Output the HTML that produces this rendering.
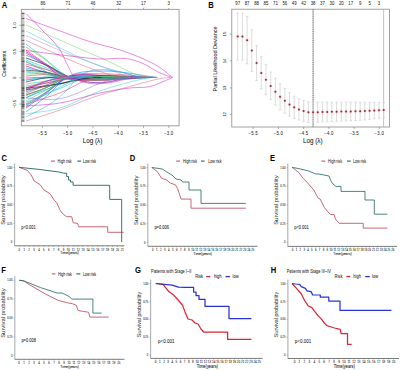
<!DOCTYPE html>
<html><head><meta charset="utf-8"><style>
html,body{margin:0;padding:0;background:#fff;width:400px;height:370px;overflow:hidden}
svg{display:block}
text{font-family:"Liberation Sans", sans-serif}
</style></head><body>
<svg width="400" height="370" viewBox="0 0 400 370">
<rect width="400" height="370" fill="#fff"/>
<text x="0" y="0" font-size="7.6" text-anchor="middle" font-weight="bold" fill="#000" dominant-baseline="central" stroke="#000" stroke-width="0" transform="translate(4.55 4.95) scale(1 1.17)">A</text>
<rect x="21.4" y="9.4" width="157.7" height="116.39999999999999" fill="none" stroke="#a0a0a0" stroke-width="1.0"/>
<line x1="42.50" y1="125.80" x2="42.50" y2="127.80" stroke="#777" stroke-width="0.6"/>
<text x="0" y="0" font-size="4.3" text-anchor="middle" font-weight="normal" fill="#222" dominant-baseline="central" stroke="#222" stroke-width="0.03" transform="translate(42.50 133.00) scale(1 1.12)" letter-spacing="0.25">&#8722;5.5</text>
<line x1="67.70" y1="125.80" x2="67.70" y2="127.80" stroke="#777" stroke-width="0.6"/>
<text x="0" y="0" font-size="4.3" text-anchor="middle" font-weight="normal" fill="#222" dominant-baseline="central" stroke="#222" stroke-width="0.03" transform="translate(67.70 133.00) scale(1 1.12)" letter-spacing="0.25">&#8722;5.0</text>
<line x1="93.00" y1="125.80" x2="93.00" y2="127.80" stroke="#777" stroke-width="0.6"/>
<text x="0" y="0" font-size="4.3" text-anchor="middle" font-weight="normal" fill="#222" dominant-baseline="central" stroke="#222" stroke-width="0.03" transform="translate(93.00 133.00) scale(1 1.12)" letter-spacing="0.25">&#8722;4.5</text>
<line x1="118.50" y1="125.80" x2="118.50" y2="127.80" stroke="#777" stroke-width="0.6"/>
<text x="0" y="0" font-size="4.3" text-anchor="middle" font-weight="normal" fill="#222" dominant-baseline="central" stroke="#222" stroke-width="0.03" transform="translate(118.50 133.00) scale(1 1.12)" letter-spacing="0.25">&#8722;4.0</text>
<line x1="143.50" y1="125.80" x2="143.50" y2="127.80" stroke="#777" stroke-width="0.6"/>
<text x="0" y="0" font-size="4.3" text-anchor="middle" font-weight="normal" fill="#222" dominant-baseline="central" stroke="#222" stroke-width="0.03" transform="translate(143.50 133.00) scale(1 1.12)" letter-spacing="0.25">&#8722;3.5</text>
<line x1="168.75" y1="125.80" x2="168.75" y2="127.80" stroke="#777" stroke-width="0.6"/>
<text x="0" y="0" font-size="4.3" text-anchor="middle" font-weight="normal" fill="#222" dominant-baseline="central" stroke="#222" stroke-width="0.03" transform="translate(168.75 133.00) scale(1 1.12)" letter-spacing="0.25">&#8722;3.0</text>
<line x1="43.00" y1="9.40" x2="43.00" y2="7.90" stroke="#777" stroke-width="0.6"/>
<text x="0" y="0" font-size="4.3" text-anchor="middle" font-weight="normal" fill="#222" dominant-baseline="central" stroke="#222" stroke-width="0.03" transform="translate(43.00 3.00) scale(1 1.12)">86</text>
<line x1="68.00" y1="9.40" x2="68.00" y2="7.90" stroke="#777" stroke-width="0.6"/>
<text x="0" y="0" font-size="4.3" text-anchor="middle" font-weight="normal" fill="#222" dominant-baseline="central" stroke="#222" stroke-width="0.03" transform="translate(68.00 3.00) scale(1 1.12)">71</text>
<line x1="93.00" y1="9.40" x2="93.00" y2="7.90" stroke="#777" stroke-width="0.6"/>
<text x="0" y="0" font-size="4.3" text-anchor="middle" font-weight="normal" fill="#222" dominant-baseline="central" stroke="#222" stroke-width="0.03" transform="translate(93.00 3.00) scale(1 1.12)">46</text>
<line x1="118.75" y1="9.40" x2="118.75" y2="7.90" stroke="#777" stroke-width="0.6"/>
<text x="0" y="0" font-size="4.3" text-anchor="middle" font-weight="normal" fill="#222" dominant-baseline="central" stroke="#222" stroke-width="0.03" transform="translate(118.75 3.00) scale(1 1.12)">32</text>
<line x1="143.50" y1="9.40" x2="143.50" y2="7.90" stroke="#777" stroke-width="0.6"/>
<text x="0" y="0" font-size="4.3" text-anchor="middle" font-weight="normal" fill="#222" dominant-baseline="central" stroke="#222" stroke-width="0.03" transform="translate(143.50 3.00) scale(1 1.12)">17</text>
<line x1="168.75" y1="9.40" x2="168.75" y2="7.90" stroke="#777" stroke-width="0.6"/>
<text x="0" y="0" font-size="4.3" text-anchor="middle" font-weight="normal" fill="#222" dominant-baseline="central" stroke="#222" stroke-width="0.03" transform="translate(168.75 3.00) scale(1 1.12)">3</text>
<line x1="21.40" y1="25.40" x2="19.40" y2="25.40" stroke="#777" stroke-width="0.6"/>
<text x="0" y="0" font-size="4.3" text-anchor="middle" font-weight="normal" fill="#222" dominant-baseline="central" stroke="#222" stroke-width="0.03" transform="translate(14.50 25.40) rotate(-90) scale(1 1.0)">1.0</text>
<line x1="21.40" y1="51.60" x2="19.40" y2="51.60" stroke="#777" stroke-width="0.6"/>
<text x="0" y="0" font-size="4.3" text-anchor="middle" font-weight="normal" fill="#222" dominant-baseline="central" stroke="#222" stroke-width="0.03" transform="translate(14.50 51.60) rotate(-90) scale(1 1.0)">0.5</text>
<line x1="21.40" y1="77.80" x2="19.40" y2="77.80" stroke="#777" stroke-width="0.6"/>
<text x="0" y="0" font-size="4.3" text-anchor="middle" font-weight="normal" fill="#222" dominant-baseline="central" stroke="#222" stroke-width="0.03" transform="translate(14.50 77.80) rotate(-90) scale(1 1.0)">0</text>
<line x1="21.40" y1="104.00" x2="19.40" y2="104.00" stroke="#777" stroke-width="0.6"/>
<text x="0" y="0" font-size="4.3" text-anchor="middle" font-weight="normal" fill="#222" dominant-baseline="central" stroke="#222" stroke-width="0.03" transform="translate(14.50 104.00) rotate(-90) scale(1 1.0)">&#8722;0.5</text>
<text x="0" y="0" font-size="5.0" text-anchor="middle" font-weight="normal" fill="#000" dominant-baseline="central" stroke="#000" stroke-width="0.03" transform="translate(3.80 63.80) rotate(-90) scale(1 1.2)">Coefficients</text>
<text x="0" y="0" font-size="6.3" text-anchor="middle" font-weight="normal" fill="#000" dominant-baseline="central" stroke="#000" stroke-width="0.0" transform="translate(92.50 140.30) scale(1 1.08)">Log (&#955;)</text>
<clipPath id="ca"><rect x="22" y="9.8" width="157" height="115"/></clipPath>
<g clip-path="url(#ca)">
<path d="M26.00 44.00 L28.62 46.05 L31.24 48.10 L33.86 50.15 L36.49 52.20 L39.11 54.25 L41.73 56.30 L44.35 58.34 L46.97 60.37 L49.59 62.47 L52.21 64.69 L54.84 66.94 L57.46 69.16 L60.08 71.30 L62.70 73.27 L65.32 75.01 L67.94 76.45 L71.78 78.14 L75.62 79.51 L79.46 80.59 L83.30 81.40 L87.14 81.99 L90.98 82.40 L94.82 82.64 L98.66 82.77 L102.60 82.67 L106.54 82.27 L110.48 81.65 L114.41 80.87 L118.35 79.99 L122.29 79.09 L126.23 78.24 L130.17 77.50" fill="none" stroke="#28C8D0" stroke-width="0.95" stroke-linejoin="round" stroke-opacity="0.68"/>
<path d="M26.00 47.00 L28.52 48.67 L31.04 50.30 L33.57 51.93 L36.09 53.56 L38.61 55.21 L41.13 56.91 L43.65 58.68 L46.17 60.54 L48.70 62.61 L51.22 64.92 L53.74 67.36 L56.26 69.82 L58.78 72.18 L61.30 74.32 L63.83 76.14 L66.35 77.52 L70.04 78.84 L73.74 79.58 L77.43 79.87 L81.13 79.84 L84.82 79.60 L88.52 79.29 L92.21 79.02 L95.91 78.93 L101.54 78.92 L107.18 78.82 L112.82 78.65 L118.46 78.44 L124.10 78.19 L129.73 77.94 L135.37 77.70 L141.01 77.50" fill="none" stroke="#61D04F" stroke-width="0.95" stroke-linejoin="round" stroke-opacity="0.68"/>
<path d="M26.00 50.00 L28.66 51.85 L31.32 53.71 L33.98 55.58 L36.64 57.44 L39.30 59.29 L41.96 61.13 L44.61 62.96 L47.27 64.75 L49.93 66.61 L52.59 68.57 L55.25 70.56 L57.91 72.51 L60.57 74.35 L63.23 76.01 L65.89 77.41 L68.55 78.48 L73.04 79.67 L77.53 80.31 L82.02 80.52 L86.51 80.42 L91.00 80.13 L95.49 79.75 L99.99 79.41 L104.48 79.21 L108.25 79.11 L112.03 78.95 L115.81 78.74 L119.59 78.50 L123.36 78.24 L127.14 77.98 L130.92 77.73 L134.70 77.50" fill="none" stroke="#DF536B" stroke-width="0.95" stroke-linejoin="round" stroke-opacity="0.68"/>
<path d="M26.00 53.00 L28.72 54.71 L31.43 56.45 L34.15 58.20 L36.87 59.94 L39.58 61.67 L42.30 63.35 L45.01 64.98 L47.73 66.53 L50.45 68.04 L53.16 69.55 L55.88 71.02 L58.60 72.44 L61.31 73.79 L64.03 75.04 L66.75 76.18 L69.46 77.19 L73.02 78.36 L76.57 79.42 L80.13 80.36 L83.68 81.16 L87.23 81.81 L90.79 82.31 L94.34 82.64 L97.90 82.79 L101.83 82.67 L105.77 82.27 L109.71 81.64 L113.65 80.86 L117.58 79.99 L121.52 79.09 L125.46 78.24 L129.40 77.50" fill="none" stroke="#CD0BBC" stroke-width="0.95" stroke-linejoin="round" stroke-opacity="0.68"/>
<path d="M26.00 55.00 L28.55 56.16 L31.11 57.29 L33.66 58.41 L36.22 59.54 L38.77 60.69 L41.32 61.87 L43.88 63.10 L46.43 64.40 L48.99 65.84 L51.54 67.44 L54.10 69.13 L56.65 70.84 L59.20 72.49 L61.76 74.01 L64.31 75.32 L66.87 76.35 L71.11 77.59 L75.35 78.45 L79.60 79.01 L83.84 79.33 L88.08 79.49 L92.33 79.54 L96.57 79.58 L100.82 79.65 L107.27 79.72 L113.73 79.62 L120.19 79.37 L126.65 79.02 L133.11 78.62 L139.57 78.21 L146.03 77.82 L152.48 77.50" fill="none" stroke="#2297E6" stroke-width="0.95" stroke-linejoin="round" stroke-opacity="0.68"/>
<path d="M26.00 58.00 L28.74 58.95 L31.48 59.87 L34.22 60.77 L36.96 61.68 L39.70 62.62 L42.44 63.60 L45.18 64.65 L47.92 65.80 L50.66 67.10 L53.40 68.59 L56.14 70.17 L58.88 71.79 L61.61 73.36 L64.35 74.83 L67.09 76.10 L69.83 77.12 L73.24 78.06 L76.64 78.79 L80.04 79.31 L83.45 79.68 L86.85 79.92 L90.25 80.06 L93.66 80.15 L97.06 80.20 L101.16 80.17 L105.27 79.98 L109.37 79.66 L113.47 79.25 L117.57 78.80 L121.68 78.33 L125.78 77.88 L129.88 77.50" fill="none" stroke="#222222" stroke-width="0.95" stroke-linejoin="round" stroke-opacity="0.68"/>
<path d="M26.00 60.00 L28.76 61.05 L31.51 62.10 L34.27 63.15 L37.02 64.20 L39.78 65.26 L42.53 66.31 L45.29 67.38 L48.04 68.45 L50.80 69.59 L53.55 70.81 L56.31 72.06 L59.06 73.30 L61.82 74.49 L64.57 75.58 L67.33 76.53 L70.08 77.28 L73.57 77.98 L77.06 78.48 L80.55 78.80 L84.04 79.00 L87.53 79.09 L91.02 79.13 L94.51 79.15 L98.00 79.19 L103.94 79.21 L109.89 79.11 L115.84 78.92 L121.78 78.65 L127.73 78.35 L133.67 78.04 L139.62 77.74 L145.57 77.50" fill="none" stroke="#28C8D0" stroke-width="0.95" stroke-linejoin="round" stroke-opacity="0.68"/>
<path d="M26.00 62.00 L28.80 63.02 L31.60 64.04 L34.39 65.06 L37.19 66.09 L39.99 67.11 L42.79 68.13 L45.59 69.14 L48.38 70.15 L51.18 71.20 L53.98 72.33 L56.78 73.47 L59.57 74.60 L62.37 75.67 L65.17 76.64 L67.97 77.46 L70.77 78.10 L74.89 78.72 L79.01 79.09 L83.14 79.24 L87.26 79.25 L91.38 79.15 L95.51 79.01 L99.63 78.87 L103.75 78.80 L108.94 78.74 L114.12 78.63 L119.31 78.47 L124.49 78.29 L129.68 78.08 L134.86 77.88 L140.05 77.68 L145.23 77.50" fill="none" stroke="#61D04F" stroke-width="0.95" stroke-linejoin="round" stroke-opacity="0.68"/>
<path d="M26.00 64.00 L28.77 64.76 L31.55 65.51 L34.32 66.26 L37.09 67.01 L39.87 67.77 L42.64 68.53 L45.41 69.31 L48.19 70.10 L50.96 70.95 L53.74 71.85 L56.51 72.78 L59.28 73.71 L62.06 74.62 L64.83 75.46 L67.60 76.22 L70.38 76.86 L74.40 77.65 L78.43 78.35 L82.45 78.95 L86.47 79.46 L90.50 79.86 L94.52 80.16 L98.55 80.35 L102.57 80.42 L106.19 80.35 L109.81 80.12 L113.44 79.77 L117.06 79.34 L120.68 78.86 L124.30 78.37 L127.92 77.91 L131.54 77.50" fill="none" stroke="#DF536B" stroke-width="0.95" stroke-linejoin="round" stroke-opacity="0.68"/>
<path d="M26.00 66.00 L28.56 66.86 L31.11 67.75 L33.67 68.64 L36.23 69.53 L38.78 70.40 L41.34 71.24 L43.90 72.04 L46.46 72.79 L49.01 73.51 L51.57 74.21 L54.13 74.89 L56.68 75.53 L59.24 76.12 L61.80 76.65 L64.35 77.10 L66.91 77.47 L71.14 77.89 L75.37 78.14 L79.59 78.25 L83.82 78.26 L88.05 78.21 L92.28 78.13 L96.50 78.06 L100.73 78.04 L106.64 78.04 L112.56 78.00 L118.47 77.94 L124.39 77.85 L130.30 77.76 L136.22 77.67 L142.13 77.58 L148.05 77.50" fill="none" stroke="#CD0BBC" stroke-width="0.95" stroke-linejoin="round" stroke-opacity="0.68"/>
<path d="M26.00 68.00 L28.83 68.60 L31.66 69.21 L34.48 69.82 L37.31 70.44 L40.14 71.04 L42.97 71.64 L45.80 72.22 L48.63 72.79 L51.45 73.36 L54.28 73.93 L57.11 74.50 L59.94 75.06 L62.77 75.59 L65.60 76.09 L68.42 76.54 L71.25 76.94 L74.79 77.38 L78.33 77.76 L81.87 78.10 L85.41 78.39 L88.95 78.63 L92.48 78.83 L96.02 78.97 L99.56 79.07 L105.35 79.11 L111.13 79.03 L116.91 78.85 L122.70 78.60 L128.48 78.31 L134.26 78.01 L140.05 77.73 L145.83 77.50" fill="none" stroke="#2297E6" stroke-width="0.95" stroke-linejoin="round" stroke-opacity="0.68"/>
<path d="M26.00 70.00 L28.81 70.31 L31.63 70.58 L34.44 70.84 L37.26 71.11 L40.07 71.40 L42.89 71.75 L45.70 72.16 L48.52 72.66 L51.33 73.31 L54.15 74.11 L56.96 75.00 L59.78 75.93 L62.59 76.84 L65.41 77.66 L68.22 78.35 L71.04 78.83 L74.91 79.21 L78.78 79.37 L82.66 79.35 L86.53 79.21 L90.40 79.00 L94.27 78.76 L98.14 78.56 L102.01 78.44 L107.75 78.34 L113.49 78.23 L119.23 78.11 L124.97 77.99 L130.71 77.87 L136.45 77.74 L142.19 77.62 L147.92 77.50" fill="none" stroke="#222222" stroke-width="0.95" stroke-linejoin="round" stroke-opacity="0.68"/>
<path d="M26.00 72.00 L28.74 72.37 L31.49 72.74 L34.23 73.10 L36.97 73.46 L39.71 73.83 L42.46 74.21 L45.20 74.61 L47.94 75.03 L50.68 75.51 L53.43 76.05 L56.17 76.63 L58.91 77.21 L61.65 77.77 L64.40 78.27 L67.14 78.68 L69.88 78.98 L73.86 79.22 L77.83 79.31 L81.81 79.29 L85.78 79.17 L89.76 79.01 L93.74 78.82 L97.71 78.66 L101.69 78.53 L106.04 78.43 L110.40 78.31 L114.76 78.19 L119.11 78.05 L123.47 77.91 L127.83 77.77 L132.18 77.63 L136.54 77.50" fill="none" stroke="#28C8D0" stroke-width="0.95" stroke-linejoin="round" stroke-opacity="0.68"/>
<path d="M26.00 74.00 L28.51 73.97 L31.02 73.90 L33.53 73.82 L36.03 73.74 L38.54 73.70 L41.05 73.70 L43.56 73.77 L46.07 73.93 L48.58 74.21 L51.08 74.62 L53.59 75.11 L56.10 75.64 L58.61 76.17 L61.12 76.67 L63.63 77.08 L66.14 77.39 L70.70 77.72 L75.27 77.91 L79.84 77.98 L84.41 77.98 L88.98 77.92 L93.55 77.84 L98.11 77.77 L102.68 77.75 L106.29 77.74 L109.89 77.72 L113.49 77.69 L117.10 77.66 L120.70 77.62 L124.31 77.57 L127.91 77.53 L131.51 77.50" fill="none" stroke="#61D04F" stroke-width="0.95" stroke-linejoin="round" stroke-opacity="0.68"/>
<path d="M26.00 76.00 L28.55 75.81 L31.10 75.59 L33.65 75.36 L36.19 75.14 L38.74 74.94 L41.29 74.78 L43.84 74.70 L46.39 74.69 L48.94 74.80 L51.49 75.00 L54.03 75.28 L56.58 75.60 L59.13 75.93 L61.68 76.26 L64.23 76.53 L66.78 76.74 L70.87 76.98 L74.95 77.16 L79.04 77.31 L83.13 77.42 L87.22 77.50 L91.31 77.56 L95.40 77.62 L99.49 77.67 L106.32 77.73 L113.15 77.74 L119.99 77.73 L126.82 77.69 L133.65 77.64 L140.48 77.58 L147.31 77.53 L154.14 77.50" fill="none" stroke="#DF536B" stroke-width="0.95" stroke-linejoin="round" stroke-opacity="0.68"/>
<path d="M26.00 78.00 L28.71 77.92 L31.41 77.82 L34.12 77.71 L36.82 77.61 L39.53 77.52 L42.24 77.45 L44.94 77.42 L47.65 77.44 L50.35 77.52 L53.06 77.67 L55.77 77.86 L58.47 78.07 L61.18 78.27 L63.88 78.45 L66.59 78.59 L69.30 78.65 L73.03 78.63 L76.76 78.51 L80.49 78.34 L84.22 78.13 L87.96 77.91 L91.69 77.69 L95.42 77.52 L99.15 77.41 L106.00 77.30 L112.84 77.26 L119.69 77.27 L126.54 77.30 L133.38 77.36 L140.23 77.42 L147.07 77.47 L153.92 77.50" fill="none" stroke="#CD0BBC" stroke-width="0.95" stroke-linejoin="round" stroke-opacity="0.68"/>
<path d="M26.00 80.00 L28.63 79.74 L31.27 79.45 L33.90 79.15 L36.54 78.85 L39.17 78.58 L41.81 78.34 L44.44 78.15 L47.08 78.03 L49.71 78.00 L52.35 78.05 L54.98 78.16 L57.61 78.29 L60.25 78.44 L62.88 78.57 L65.52 78.65 L68.15 78.65 L71.80 78.55 L75.44 78.36 L79.09 78.11 L82.74 77.84 L86.38 77.56 L90.03 77.30 L93.67 77.10 L97.32 76.97 L101.72 76.91 L106.12 76.92 L110.52 76.98 L114.92 77.07 L119.32 77.19 L123.73 77.31 L128.13 77.42 L132.53 77.50" fill="none" stroke="#2297E6" stroke-width="0.95" stroke-linejoin="round" stroke-opacity="0.68"/>
<path d="M26.00 82.00 L28.59 81.44 L31.18 80.84 L33.76 80.23 L36.35 79.62 L38.94 79.05 L41.53 78.53 L44.11 78.09 L46.70 77.74 L49.29 77.52 L51.88 77.40 L54.46 77.35 L57.05 77.36 L59.64 77.40 L62.23 77.44 L64.81 77.47 L67.40 77.45 L71.37 77.38 L75.35 77.29 L79.32 77.19 L83.29 77.09 L87.27 76.99 L91.24 76.92 L95.22 76.86 L99.19 76.84 L103.78 76.86 L108.36 76.91 L112.95 76.99 L117.54 77.09 L122.12 77.19 L126.71 77.30 L131.30 77.41 L135.88 77.50" fill="none" stroke="#222222" stroke-width="0.95" stroke-linejoin="round" stroke-opacity="0.68"/>
<path d="M26.00 84.00 L28.64 83.61 L31.28 83.23 L33.92 82.85 L36.55 82.46 L39.19 82.08 L41.83 81.69 L44.47 81.30 L47.11 80.91 L49.75 80.50 L52.38 80.07 L55.02 79.62 L57.66 79.18 L60.30 78.75 L62.94 78.35 L65.58 78.00 L68.22 77.70 L72.34 77.32 L76.46 77.00 L80.58 76.75 L84.70 76.54 L88.82 76.38 L92.94 76.26 L97.06 76.18 L101.18 76.12 L107.12 76.12 L113.06 76.21 L119.00 76.37 L124.95 76.58 L130.89 76.82 L136.83 77.07 L142.77 77.30 L148.71 77.50" fill="none" stroke="#28C8D0" stroke-width="0.95" stroke-linejoin="round" stroke-opacity="0.68"/>
<path d="M26.00 86.00 L28.75 85.59 L31.51 85.21 L34.26 84.85 L37.01 84.48 L39.77 84.08 L42.52 83.64 L45.28 83.15 L48.03 82.58 L50.78 81.88 L53.54 81.04 L56.29 80.12 L59.04 79.17 L61.80 78.25 L64.55 77.40 L67.30 76.69 L70.06 76.16 L74.17 75.66 L78.29 75.38 L82.40 75.28 L86.52 75.30 L90.63 75.41 L94.75 75.55 L98.86 75.69 L102.98 75.78 L109.03 75.89 L115.08 76.05 L121.14 76.26 L127.19 76.50 L133.24 76.76 L139.29 77.02 L145.35 77.27 L151.40 77.50" fill="none" stroke="#61D04F" stroke-width="0.95" stroke-linejoin="round" stroke-opacity="0.68"/>
<path d="M26.00 88.00 L28.65 87.08 L31.29 86.13 L33.94 85.16 L36.59 84.20 L39.24 83.27 L41.88 82.39 L44.53 81.57 L47.18 80.85 L49.82 80.20 L52.47 79.61 L55.12 79.07 L57.77 78.59 L60.41 78.16 L63.06 77.79 L65.71 77.47 L68.35 77.20 L71.77 76.94 L75.18 76.79 L78.60 76.73 L82.01 76.73 L85.43 76.76 L88.84 76.81 L92.26 76.86 L95.67 76.88 L102.09 76.90 L108.51 76.95 L114.93 77.03 L121.35 77.12 L127.77 77.22 L134.19 77.32 L140.61 77.41 L147.03 77.50" fill="none" stroke="#DF536B" stroke-width="0.95" stroke-linejoin="round" stroke-opacity="0.68"/>
<path d="M26.00 90.00 L28.58 88.88 L31.16 87.72 L33.73 86.54 L36.31 85.37 L38.89 84.23 L41.47 83.15 L44.05 82.15 L46.63 81.24 L49.20 80.43 L51.78 79.67 L54.36 78.97 L56.94 78.33 L59.52 77.76 L62.10 77.26 L64.67 76.84 L67.25 76.49 L70.91 76.14 L74.57 75.93 L78.23 75.86 L81.88 75.87 L85.54 75.94 L89.20 76.05 L92.86 76.16 L96.51 76.23 L100.65 76.32 L104.78 76.44 L108.91 76.60 L113.04 76.77 L117.18 76.96 L121.31 77.15 L125.44 77.33 L129.58 77.50" fill="none" stroke="#CD0BBC" stroke-width="0.95" stroke-linejoin="round" stroke-opacity="0.68"/>
<path d="M26.00 92.00 L28.54 91.13 L31.08 90.27 L33.61 89.42 L36.15 88.56 L38.69 87.69 L41.23 86.82 L43.77 85.92 L46.30 85.00 L48.84 84.00 L51.38 82.91 L53.92 81.76 L56.46 80.62 L58.99 79.53 L61.53 78.55 L64.07 77.72 L66.61 77.09 L70.34 76.51 L74.08 76.22 L77.81 76.14 L81.55 76.22 L85.28 76.40 L89.02 76.61 L92.75 76.78 L96.49 76.85 L103.70 76.88 L110.92 76.94 L118.14 77.01 L125.36 77.11 L132.58 77.21 L139.79 77.31 L147.01 77.41 L154.23 77.50" fill="none" stroke="#2297E6" stroke-width="0.95" stroke-linejoin="round" stroke-opacity="0.68"/>
<path d="M26.00 95.00 L28.59 94.07 L31.19 93.17 L33.78 92.28 L36.38 91.38 L38.97 90.46 L41.57 89.51 L44.16 88.50 L46.76 87.42 L49.35 86.19 L51.95 84.79 L54.54 83.31 L57.14 81.80 L59.73 80.35 L62.32 79.03 L64.92 77.90 L67.51 77.04 L72.19 76.01 L76.87 75.38 L81.55 75.08 L86.22 75.02 L90.90 75.12 L95.58 75.32 L100.25 75.52 L104.93 75.65 L108.28 75.75 L111.62 75.91 L114.96 76.14 L118.31 76.40 L121.65 76.68 L125.00 76.97 L128.34 77.25 L131.69 77.50" fill="none" stroke="#222222" stroke-width="0.95" stroke-linejoin="round" stroke-opacity="0.68"/>
<path d="M26.00 98.00 L28.67 96.63 L31.35 95.24 L34.02 93.86 L36.70 92.47 L39.37 91.09 L42.05 89.73 L44.72 88.40 L47.40 87.10 L50.07 85.77 L52.75 84.39 L55.42 83.00 L58.10 81.64 L60.77 80.37 L63.45 79.21 L66.12 78.23 L68.80 77.45 L72.40 76.73 L76.01 76.29 L79.62 76.08 L83.22 76.03 L86.83 76.10 L90.43 76.21 L94.04 76.32 L97.65 76.36 L101.82 76.39 L106.00 76.48 L110.18 76.61 L114.36 76.78 L118.53 76.97 L122.71 77.16 L126.89 77.34 L131.07 77.50" fill="none" stroke="#28C8D0" stroke-width="0.95" stroke-linejoin="round" stroke-opacity="0.68"/>
<path d="M26.00 101.00 L28.81 99.48 L31.62 97.97 L34.43 96.46 L37.24 94.94 L40.05 93.43 L42.86 91.91 L45.68 90.38 L48.49 88.86 L51.30 87.24 L54.11 85.49 L56.92 83.69 L59.73 81.91 L62.54 80.23 L65.35 78.71 L68.16 77.44 L70.97 76.48 L74.16 75.81 L77.35 75.48 L80.53 75.43 L83.72 75.57 L86.91 75.82 L90.09 76.11 L93.28 76.35 L96.47 76.46 L103.97 76.54 L111.48 76.65 L118.99 76.77 L126.50 76.91 L134.01 77.06 L141.51 77.22 L149.02 77.36 L156.53 77.50" fill="none" stroke="#61D04F" stroke-width="0.95" stroke-linejoin="round" stroke-opacity="0.68"/>
<path d="M26.00 104.00 L28.70 102.46 L31.41 100.94 L34.11 99.44 L36.81 97.93 L39.52 96.40 L42.22 94.82 L44.93 93.20 L47.63 91.49 L50.33 89.61 L53.04 87.52 L55.74 85.31 L58.44 83.10 L61.15 80.96 L63.85 79.02 L66.56 77.36 L69.26 76.08 L73.35 74.77 L77.43 73.95 L81.52 73.53 L85.61 73.41 L89.70 73.49 L93.79 73.66 L97.87 73.84 L101.96 73.92 L108.89 74.02 L115.81 74.31 L122.73 74.73 L129.66 75.26 L136.58 75.84 L143.51 76.44 L150.43 77.00 L157.36 77.50" fill="none" stroke="#DF536B" stroke-width="0.95" stroke-linejoin="round" stroke-opacity="0.68"/>
<path d="M26.00 108.00 L28.60 106.09 L31.20 104.18 L33.79 102.27 L36.39 100.36 L38.99 98.44 L41.59 96.53 L44.19 94.61 L46.78 92.68 L49.38 90.65 L51.98 88.46 L54.58 86.22 L57.18 84.00 L59.77 81.89 L62.37 79.98 L64.97 78.35 L67.57 77.10 L71.97 75.68 L76.37 74.85 L80.78 74.50 L85.18 74.48 L89.58 74.69 L93.98 74.99 L98.39 75.25 L102.79 75.36 L108.84 75.41 L114.88 75.58 L120.93 75.83 L126.97 76.15 L133.02 76.50 L139.07 76.86 L145.11 77.20 L151.16 77.50" fill="none" stroke="#CD0BBC" stroke-width="0.95" stroke-linejoin="round" stroke-opacity="0.68"/>
<path d="M26.00 112.00 L28.62 109.99 L31.25 108.00 L33.87 106.03 L36.49 104.05 L39.12 102.05 L41.74 100.01 L44.37 97.91 L46.99 95.75 L49.61 93.39 L52.24 90.81 L54.86 88.11 L57.48 85.40 L60.11 82.79 L62.73 80.40 L65.35 78.32 L67.98 76.67 L72.36 74.65 L76.75 73.20 L81.13 72.22 L85.52 71.62 L89.90 71.31 L94.29 71.18 L98.68 71.13 L103.06 71.08 L109.87 71.16 L116.68 71.62 L123.49 72.38 L130.30 73.35 L137.12 74.43 L143.93 75.54 L150.74 76.59 L157.55 77.50" fill="none" stroke="#2297E6" stroke-width="0.95" stroke-linejoin="round" stroke-opacity="0.68"/>
<path d="M26.00 97.46 L29.58 96.06 L33.16 94.64 L36.74 93.21 L40.32 91.79 L43.90 90.38 L47.49 89.00 L51.07 87.67 L54.65 86.39 L58.23 85.11 L61.81 83.80 L65.39 82.50 L68.97 81.25 L72.55 80.09 L76.13 79.05 L79.71 78.17 L83.29 77.50 L84.54 77.35 L85.79 77.28 L87.04 77.27 L88.29 77.31 L89.54 77.36 L90.79 77.43 L92.04 77.48 L93.29 77.50" fill="none" stroke="#2297E6" stroke-width="0.95" stroke-linejoin="round" stroke-opacity="0.68"/>
<path d="M26.00 80.02 L28.50 79.60 L31.00 79.15 L33.50 78.68 L36.00 78.21 L38.50 77.78 L41.00 77.40 L43.50 77.09 L46.00 76.88 L48.50 76.78 L51.00 76.78 L53.50 76.86 L56.00 76.99 L58.50 77.15 L61.00 77.30 L63.50 77.43 L66.00 77.50 L67.25 77.51 L68.50 77.52 L69.75 77.52 L71.00 77.52 L72.25 77.51 L73.50 77.51 L74.75 77.50 L76.00 77.50" fill="none" stroke="#28C8D0" stroke-width="0.95" stroke-linejoin="round" stroke-opacity="0.68"/>
<path d="M26.00 51.62 L28.29 53.10 L30.57 54.57 L32.86 56.03 L35.14 57.49 L37.43 58.96 L39.72 60.47 L42.00 62.01 L44.29 63.60 L46.57 65.34 L48.86 67.26 L51.14 69.28 L53.43 71.30 L55.72 73.22 L58.00 74.96 L60.29 76.41 L62.57 77.50 L63.82 77.86 L65.07 78.03 L66.32 78.06 L67.57 77.98 L68.82 77.83 L70.07 77.68 L71.32 77.55 L72.57 77.50" fill="none" stroke="#CD0BBC" stroke-width="0.95" stroke-linejoin="round" stroke-opacity="0.68"/>
<path d="M26.00 90.17 L30.19 89.35 L34.38 88.52 L38.57 87.69 L42.76 86.87 L46.95 86.05 L51.14 85.23 L55.33 84.42 L59.52 83.62 L63.71 82.79 L67.90 81.92 L72.09 81.03 L76.28 80.15 L80.47 79.33 L84.66 78.59 L88.85 77.97 L93.04 77.50 L94.29 77.41 L95.54 77.37 L96.79 77.37 L98.04 77.39 L99.29 77.42 L100.54 77.46 L101.79 77.49 L103.04 77.50" fill="none" stroke="#222222" stroke-width="0.95" stroke-linejoin="round" stroke-opacity="0.68"/>
<path d="M26.00 104.35 L30.28 102.92 L34.56 101.53 L38.84 100.16 L43.12 98.77 L47.39 97.36 L51.67 95.90 L55.95 94.37 L60.23 92.74 L64.51 90.91 L68.79 88.83 L73.07 86.62 L77.35 84.40 L81.63 82.26 L85.90 80.32 L90.18 78.70 L94.46 77.50 L95.71 77.29 L96.96 77.19 L98.21 77.17 L99.46 77.22 L100.71 77.30 L101.96 77.40 L103.21 77.47 L104.46 77.50" fill="none" stroke="#DF536B" stroke-width="0.95" stroke-linejoin="round" stroke-opacity="0.68"/>
<path d="M26.00 71.15 L28.12 71.39 L30.24 71.62 L32.36 71.83 L34.48 72.05 L36.60 72.29 L38.72 72.56 L40.84 72.87 L42.96 73.23 L45.08 73.69 L47.20 74.25 L49.32 74.86 L51.44 75.50 L53.56 76.12 L55.68 76.68 L57.80 77.16 L59.92 77.50 L61.17 77.62 L62.42 77.68 L63.67 77.68 L64.92 77.66 L66.17 77.61 L67.42 77.56 L68.67 77.52 L69.92 77.50" fill="none" stroke="#61D04F" stroke-width="0.95" stroke-linejoin="round" stroke-opacity="0.68"/>
<path d="M26.00 61.41 L28.07 62.48 L30.15 63.57 L32.22 64.66 L34.30 65.74 L36.37 66.82 L38.45 67.89 L40.52 68.93 L42.60 69.95 L44.67 70.99 L46.75 72.08 L48.82 73.19 L50.90 74.26 L52.97 75.27 L55.05 76.17 L57.12 76.92 L59.20 77.50 L60.45 77.72 L61.70 77.82 L62.95 77.83 L64.20 77.78 L65.45 77.70 L66.70 77.61 L67.95 77.53 L69.20 77.50" fill="none" stroke="#2297E6" stroke-width="0.95" stroke-linejoin="round" stroke-opacity="0.68"/>
<path d="M26.00 102.22 L29.86 100.66 L33.73 99.10 L37.59 97.55 L41.45 95.99 L45.32 94.43 L49.18 92.88 L53.05 91.32 L56.91 89.78 L60.77 88.15 L64.64 86.41 L68.50 84.62 L72.36 82.86 L76.23 81.20 L80.09 79.70 L83.96 78.45 L87.82 77.50 L89.07 77.31 L90.32 77.22 L91.57 77.21 L92.82 77.25 L94.07 77.33 L95.32 77.41 L96.57 77.47 L97.82 77.50" fill="none" stroke="#28C8D0" stroke-width="0.95" stroke-linejoin="round" stroke-opacity="0.68"/>
<path d="M26.00 87.87 L29.75 86.99 L33.50 86.08 L37.25 85.16 L41.00 84.24 L44.74 83.35 L48.49 82.50 L52.24 81.72 L55.99 81.03 L59.74 80.40 L63.49 79.83 L67.24 79.31 L70.99 78.83 L74.74 78.42 L78.49 78.06 L82.23 77.75 L85.98 77.50 L87.23 77.44 L88.48 77.42 L89.73 77.41 L90.98 77.43 L92.23 77.45 L93.48 77.47 L94.73 77.49 L95.98 77.50" fill="none" stroke="#CD0BBC" stroke-width="0.95" stroke-linejoin="round" stroke-opacity="0.68"/>
<path d="M26.00 88.31 L30.06 87.79 L34.12 87.30 L38.18 86.81 L42.23 86.32 L46.29 85.81 L50.35 85.26 L54.41 84.68 L58.47 84.04 L62.53 83.28 L66.59 82.41 L70.65 81.46 L74.70 80.50 L78.76 79.57 L82.82 78.73 L86.88 78.02 L90.94 77.50 L92.19 77.40 L93.44 77.36 L94.69 77.35 L95.94 77.37 L97.19 77.41 L98.44 77.45 L99.69 77.49 L100.94 77.50" fill="none" stroke="#222222" stroke-width="0.95" stroke-linejoin="round" stroke-opacity="0.68"/>
<path d="M26.00 93.51 L28.84 92.33 L31.69 91.13 L34.53 89.91 L37.38 88.70 L40.22 87.51 L43.07 86.36 L45.91 85.26 L48.76 84.22 L51.60 83.21 L54.44 82.20 L57.29 81.22 L60.13 80.28 L62.98 79.41 L65.82 78.65 L68.67 78.00 L71.51 77.50 L72.76 77.36 L74.01 77.29 L75.26 77.28 L76.51 77.32 L77.76 77.37 L79.01 77.43 L80.26 77.48 L81.51 77.50" fill="none" stroke="#DF536B" stroke-width="0.95" stroke-linejoin="round" stroke-opacity="0.68"/>
<path d="M26.00 95.77 L28.44 94.79 L30.87 93.84 L33.31 92.90 L35.74 91.95 L38.18 90.99 L40.61 89.99 L43.05 88.94 L45.48 87.84 L47.92 86.59 L50.35 85.18 L52.79 83.68 L55.22 82.17 L57.66 80.73 L60.09 79.41 L62.53 78.31 L64.96 77.50 L66.21 77.25 L67.46 77.13 L68.71 77.11 L69.96 77.17 L71.21 77.27 L72.46 77.38 L73.71 77.46 L74.96 77.50" fill="none" stroke="#61D04F" stroke-width="0.95" stroke-linejoin="round" stroke-opacity="0.68"/>
<path d="M26.00 106.36 L28.61 104.50 L31.23 102.63 L33.84 100.76 L36.45 98.90 L39.07 97.03 L41.68 95.18 L44.29 93.35 L46.91 91.53 L49.52 89.65 L52.13 87.64 L54.75 85.60 L57.36 83.59 L59.97 81.70 L62.59 80.00 L65.20 78.58 L67.81 77.50 L69.06 77.18 L70.31 77.03 L71.56 77.01 L72.81 77.08 L74.06 77.21 L75.31 77.34 L76.56 77.45 L77.81 77.50" fill="none" stroke="#2297E6" stroke-width="0.95" stroke-linejoin="round" stroke-opacity="0.68"/>
<path d="M26.00 104.91 L29.54 103.02 L33.08 101.10 L36.62 99.16 L40.15 97.24 L43.69 95.33 L47.23 93.46 L50.77 91.64 L54.31 89.89 L57.85 88.13 L61.38 86.31 L64.92 84.50 L68.46 82.75 L72.00 81.12 L75.54 79.66 L79.08 78.44 L82.62 77.50 L83.87 77.29 L85.12 77.19 L86.37 77.18 L87.62 77.23 L88.87 77.31 L90.12 77.40 L91.37 77.47 L92.62 77.50" fill="none" stroke="#28C8D0" stroke-width="0.95" stroke-linejoin="round" stroke-opacity="0.68"/>
<path d="M26.00 13.50 L28.25 15.80 L30.50 18.08 L32.75 20.36 L35.00 22.64 L37.25 24.93 L39.50 27.25 L41.75 29.60 L44.00 32.00 L46.00 34.08 L48.00 36.06 L50.00 38.02 L52.00 40.03 L54.00 42.16 L56.00 44.48 L58.00 47.07 L60.00 50.00 L61.00 51.67 L62.00 53.54 L63.00 55.55 L64.00 57.65 L65.00 59.79 L66.00 61.93 L67.00 64.02 L68.00 66.00 L68.75 67.48 L69.50 69.02 L70.25 70.57 L71.00 72.09 L71.75 73.54 L72.50 74.87 L73.25 76.04 L74.00 77.00 L75.75 78.73 L77.50 80.02 L79.25 80.95 L81.00 81.60 L82.75 82.05 L84.50 82.38 L86.25 82.67 L88.00 83.00 L90.50 83.44 L93.00 83.70 L95.50 83.81 L98.00 83.79 L100.50 83.68 L103.00 83.49 L105.50 83.26 L108.00 83.00 L110.12 82.72 L112.25 82.34 L114.38 81.89 L116.50 81.39 L118.62 80.88 L120.75 80.37 L122.88 79.90 L125.00 79.50 L126.88 79.20 L128.75 78.92 L130.62 78.67 L132.50 78.43 L134.38 78.20 L136.25 77.97 L138.12 77.74 L140.00 77.50" fill="none" stroke="#CD0BBC" stroke-width="0.95" stroke-linejoin="round" stroke-opacity="0.5"/>
<path d="M26.00 18.50 L30.25 20.07 L34.50 21.64 L38.75 23.21 L43.00 24.78 L47.25 26.35 L51.50 27.91 L55.75 29.46 L60.00 31.00 L64.06 32.48 L68.12 33.97 L72.19 35.46 L76.25 36.94 L80.31 38.40 L84.38 39.82 L88.44 41.19 L92.50 42.50 L95.94 43.52 L99.38 44.45 L102.81 45.32 L106.25 46.17 L109.69 47.03 L113.12 47.93 L116.56 48.91 L120.00 50.00 L123.75 51.28 L127.50 52.60 L131.25 53.98 L135.00 55.42 L138.75 56.93 L142.50 58.52 L146.25 60.21 L150.00 62.00 L151.50 62.75 L153.00 63.53 L154.50 64.34 L156.00 65.19 L157.50 66.08 L159.00 67.01 L160.50 67.98 L162.00 69.00 L163.31 69.95 L164.62 70.96 L165.94 72.01 L167.25 73.10 L168.56 74.21 L169.88 75.32 L171.19 76.42 L172.50 77.50" fill="none" stroke="#CD0BBC" stroke-width="0.95" stroke-linejoin="round" stroke-opacity="0.5"/>
<path d="M26.00 25.00 L33.06 28.13 L40.12 31.26 L47.19 34.39 L54.25 37.52 L61.31 40.65 L68.38 43.77 L75.44 46.89 L82.50 50.00 L85.94 51.50 L89.38 52.98 L92.81 54.46 L96.25 55.94 L99.69 57.42 L103.12 58.92 L106.56 60.44 L110.00 62.00 L113.12 63.48 L116.25 65.05 L119.38 66.65 L122.50 68.26 L125.62 69.84 L128.75 71.34 L131.88 72.74 L135.00 74.00 L136.62 74.57 L138.25 75.07 L139.88 75.51 L141.50 75.92 L143.12 76.31 L144.75 76.69 L146.38 77.08 L148.00 77.50" fill="none" stroke="#61D04F" stroke-width="0.95" stroke-linejoin="round" stroke-opacity="0.5"/>
<path d="M26.00 35.70 L31.50 38.08 L37.00 40.48 L42.50 42.88 L48.00 45.29 L53.50 47.67 L59.00 50.03 L64.50 52.34 L70.00 54.60 L73.75 56.10 L77.50 57.55 L81.25 58.98 L85.00 60.39 L88.75 61.78 L92.50 63.18 L96.25 64.58 L100.00 66.00 L103.75 67.43 L107.50 68.87 L111.25 70.31 L115.00 71.74 L118.75 73.18 L122.50 74.62 L126.25 76.06 L130.00 77.50" fill="none" stroke="#b080d8" stroke-width="0.95" stroke-linejoin="round" stroke-opacity="0.5"/>
<path d="M26.00 40.40 L31.50 42.86 L37.00 45.35 L42.50 47.84 L48.00 50.32 L53.50 52.80 L59.00 55.24 L64.50 57.65 L70.00 60.00 L73.12 61.32 L76.25 62.64 L79.38 63.94 L82.50 65.23 L85.62 66.48 L88.75 67.70 L91.88 68.88 L95.00 70.00 L98.12 71.06 L101.25 72.05 L104.38 73.00 L107.50 73.91 L110.62 74.80 L113.75 75.68 L116.88 76.58 L120.00 77.50" fill="none" stroke="#DF536B" stroke-width="0.95" stroke-linejoin="round" stroke-opacity="0.5"/>
<path d="M26.00 31.00 L30.25 33.13 L34.50 35.28 L38.75 37.44 L43.00 39.59 L47.25 41.73 L51.50 43.85 L55.75 45.94 L60.00 48.00 L64.38 50.11 L68.75 52.23 L73.12 54.35 L77.50 56.44 L81.88 58.47 L86.25 60.42 L90.62 62.27 L95.00 64.00 L100.62 66.03 L106.25 67.87 L111.88 69.58 L117.50 71.19 L123.12 72.75 L128.75 74.29 L134.38 75.86 L140.00 77.50" fill="none" stroke="#28C8D0" stroke-width="0.95" stroke-linejoin="round" stroke-opacity="0.5"/>
<path d="M26.00 50.50 L31.50 51.20 L37.00 51.90 L42.50 52.61 L48.00 53.32 L53.50 54.02 L59.00 54.70 L64.50 55.37 L70.00 56.00 L73.75 56.43 L77.50 56.88 L81.25 57.32 L85.00 57.75 L88.75 58.14 L92.50 58.49 L96.25 58.78 L100.00 59.00 L103.44 59.06 L106.88 58.95 L110.31 58.75 L113.75 58.53 L117.19 58.36 L120.62 58.30 L124.06 58.42 L127.50 58.80 L129.56 59.17 L131.62 59.63 L133.69 60.17 L135.75 60.80 L137.81 61.51 L139.88 62.28 L141.94 63.11 L144.00 64.00 L145.75 64.85 L147.50 65.81 L149.25 66.85 L151.00 67.93 L152.75 69.03 L154.50 70.09 L156.25 71.10 L158.00 72.00 L159.75 72.81 L161.50 73.55 L163.25 74.25 L165.00 74.91 L166.75 75.55 L168.50 76.18 L170.25 76.83 L172.00 77.50" fill="none" stroke="#CD0BBC" stroke-width="0.95" stroke-linejoin="round" stroke-opacity="0.5"/>
<path d="M26.00 121.00 L30.25 119.64 L34.50 118.30 L38.75 116.97 L43.00 115.63 L47.25 114.28 L51.50 112.90 L55.75 111.47 L60.00 110.00 L64.06 108.51 L68.12 106.95 L72.19 105.33 L76.25 103.69 L80.31 102.06 L84.38 100.46 L88.44 98.94 L92.50 97.50 L97.81 95.74 L103.12 94.06 L108.44 92.45 L113.75 90.90 L119.06 89.39 L124.38 87.91 L129.69 86.45 L135.00 85.00 L138.12 84.14 L141.25 83.27 L144.38 82.42 L147.50 81.58 L150.62 80.77 L153.75 80.02 L156.88 79.32 L160.00 78.70 L161.25 78.49 L162.50 78.31 L163.75 78.15 L165.00 78.02 L166.25 77.89 L167.50 77.77 L168.75 77.64 L170.00 77.50" fill="none" stroke="#DF536B" stroke-width="0.95" stroke-linejoin="round" stroke-opacity="0.5"/>
<path d="M26.00 114.00 L30.25 113.31 L34.50 112.70 L38.75 112.12 L43.00 111.53 L47.25 110.87 L51.50 110.09 L55.75 109.15 L60.00 108.00 L65.00 106.32 L70.00 104.33 L75.00 102.13 L80.00 99.81 L85.00 97.45 L90.00 95.13 L95.00 92.95 L100.00 91.00 L103.75 89.68 L107.50 88.43 L111.25 87.25 L115.00 86.12 L118.75 85.05 L122.50 84.00 L126.25 82.99 L130.00 82.00 L132.50 81.37 L135.00 80.77 L137.50 80.20 L140.00 79.66 L142.50 79.12 L145.00 78.59 L147.50 78.05 L150.00 77.50" fill="none" stroke="#28C8D0" stroke-width="0.95" stroke-linejoin="round" stroke-opacity="0.5"/>
<path d="M26.00 117.00 L29.00 115.42 L32.00 113.90 L35.00 112.40 L38.00 110.89 L41.00 109.33 L44.00 107.69 L47.00 105.92 L50.00 104.00 L51.88 102.71 L53.75 101.37 L55.62 99.96 L57.50 98.49 L59.38 96.96 L61.25 95.37 L63.12 93.72 L65.00 92.00 L66.88 90.12 L68.75 88.05 L70.62 85.85 L72.50 83.62 L74.38 81.44 L76.25 79.39 L78.12 77.55 L80.00 76.00 L81.88 74.72 L83.75 73.63 L85.62 72.70 L87.50 71.92 L89.38 71.28 L91.25 70.76 L93.12 70.34 L95.00 70.00 L98.12 69.64 L101.25 69.54 L104.38 69.66 L107.50 69.95 L110.62 70.37 L113.75 70.88 L116.88 71.43 L120.00 72.00 L122.50 72.50 L125.00 73.10 L127.50 73.78 L130.00 74.51 L132.50 75.27 L135.00 76.03 L137.50 76.79 L140.00 77.50" fill="none" stroke="#2297E6" stroke-width="0.95" stroke-linejoin="round" stroke-opacity="0.5"/>
<path d="M26.00 106.00 L30.25 105.66 L34.50 105.38 L38.75 105.12 L43.00 104.84 L47.25 104.53 L51.50 104.14 L55.75 103.64 L60.00 103.00 L65.00 102.04 L70.00 100.88 L75.00 99.58 L80.00 98.20 L85.00 96.79 L90.00 95.42 L95.00 94.13 L100.00 93.00 L103.75 92.24 L107.50 91.51 L111.25 90.82 L115.00 90.17 L118.75 89.56 L122.50 89.00 L126.25 88.48 L130.00 88.00 L132.50 87.76 L135.00 87.63 L137.50 87.56 L140.00 87.50 L142.50 87.40 L145.00 87.24 L147.50 86.95 L150.00 86.50 L151.38 86.16 L152.75 85.74 L154.12 85.27 L155.50 84.75 L156.88 84.20 L158.25 83.63 L159.62 83.06 L161.00 82.50 L162.44 81.91 L163.88 81.31 L165.31 80.68 L166.75 80.05 L168.19 79.41 L169.62 78.77 L171.06 78.13 L172.50 77.50" fill="none" stroke="#CD0BBC" stroke-width="0.95" stroke-linejoin="round" stroke-opacity="0.5"/>
<path d="M26.00 98.00 L30.25 98.18 L34.50 98.49 L38.75 98.85 L43.00 99.19 L47.25 99.42 L51.50 99.47 L55.75 99.25 L60.00 98.70 L66.25 97.22 L72.50 95.12 L78.75 92.59 L85.00 89.80 L91.25 86.97 L97.50 84.26 L103.75 81.88 L110.00 80.00 L112.50 79.45 L115.00 79.02 L117.50 78.70 L120.00 78.44 L122.50 78.22 L125.00 78.01 L127.50 77.78 L130.00 77.50" fill="none" stroke="#7a70d0" stroke-width="0.95" stroke-linejoin="round" stroke-opacity="0.5"/>
</g>
<line x1="23.20" y1="12.00" x2="23.20" y2="122.00" stroke="#c8c8c8" stroke-width="2.4"/>
<line x1="21.80" y1="44.00" x2="24.40" y2="44.00" stroke="#444" stroke-width="1.0" stroke-opacity="0.8"/>
<line x1="21.80" y1="47.00" x2="24.40" y2="47.00" stroke="#444" stroke-width="1.0" stroke-opacity="0.8"/>
<line x1="21.80" y1="50.00" x2="24.40" y2="50.00" stroke="#444" stroke-width="1.0" stroke-opacity="0.8"/>
<line x1="21.80" y1="53.00" x2="24.40" y2="53.00" stroke="#444" stroke-width="1.0" stroke-opacity="0.8"/>
<line x1="21.80" y1="55.00" x2="24.40" y2="55.00" stroke="#444" stroke-width="1.0" stroke-opacity="0.8"/>
<line x1="21.80" y1="58.00" x2="24.40" y2="58.00" stroke="#444" stroke-width="1.0" stroke-opacity="0.8"/>
<line x1="21.80" y1="60.00" x2="24.40" y2="60.00" stroke="#444" stroke-width="1.0" stroke-opacity="0.8"/>
<line x1="21.80" y1="62.00" x2="24.40" y2="62.00" stroke="#444" stroke-width="1.0" stroke-opacity="0.8"/>
<line x1="21.80" y1="64.00" x2="24.40" y2="64.00" stroke="#444" stroke-width="1.0" stroke-opacity="0.8"/>
<line x1="21.80" y1="66.00" x2="24.40" y2="66.00" stroke="#444" stroke-width="1.0" stroke-opacity="0.8"/>
<line x1="21.80" y1="68.00" x2="24.40" y2="68.00" stroke="#444" stroke-width="1.0" stroke-opacity="0.8"/>
<line x1="21.80" y1="70.00" x2="24.40" y2="70.00" stroke="#444" stroke-width="1.0" stroke-opacity="0.8"/>
<line x1="21.80" y1="72.00" x2="24.40" y2="72.00" stroke="#444" stroke-width="1.0" stroke-opacity="0.8"/>
<line x1="21.80" y1="74.00" x2="24.40" y2="74.00" stroke="#444" stroke-width="1.0" stroke-opacity="0.8"/>
<line x1="21.80" y1="76.00" x2="24.40" y2="76.00" stroke="#444" stroke-width="1.0" stroke-opacity="0.8"/>
<line x1="21.80" y1="78.00" x2="24.40" y2="78.00" stroke="#444" stroke-width="1.0" stroke-opacity="0.8"/>
<line x1="21.80" y1="80.00" x2="24.40" y2="80.00" stroke="#444" stroke-width="1.0" stroke-opacity="0.8"/>
<line x1="21.80" y1="82.00" x2="24.40" y2="82.00" stroke="#444" stroke-width="1.0" stroke-opacity="0.8"/>
<line x1="21.80" y1="84.00" x2="24.40" y2="84.00" stroke="#444" stroke-width="1.0" stroke-opacity="0.8"/>
<line x1="21.80" y1="86.00" x2="24.40" y2="86.00" stroke="#444" stroke-width="1.0" stroke-opacity="0.8"/>
<line x1="21.80" y1="88.00" x2="24.40" y2="88.00" stroke="#444" stroke-width="1.0" stroke-opacity="0.8"/>
<line x1="21.80" y1="90.00" x2="24.40" y2="90.00" stroke="#444" stroke-width="1.0" stroke-opacity="0.8"/>
<line x1="21.80" y1="92.00" x2="24.40" y2="92.00" stroke="#444" stroke-width="1.0" stroke-opacity="0.8"/>
<line x1="21.80" y1="95.00" x2="24.40" y2="95.00" stroke="#444" stroke-width="1.0" stroke-opacity="0.8"/>
<line x1="21.80" y1="98.00" x2="24.40" y2="98.00" stroke="#444" stroke-width="1.0" stroke-opacity="0.8"/>
<line x1="21.80" y1="101.00" x2="24.40" y2="101.00" stroke="#444" stroke-width="1.0" stroke-opacity="0.8"/>
<line x1="21.80" y1="104.00" x2="24.40" y2="104.00" stroke="#444" stroke-width="1.0" stroke-opacity="0.8"/>
<line x1="21.80" y1="108.00" x2="24.40" y2="108.00" stroke="#444" stroke-width="1.0" stroke-opacity="0.8"/>
<line x1="21.80" y1="112.00" x2="24.40" y2="112.00" stroke="#444" stroke-width="1.0" stroke-opacity="0.8"/>
<line x1="21.80" y1="97.46" x2="24.40" y2="97.46" stroke="#444" stroke-width="1.0" stroke-opacity="0.8"/>
<line x1="21.80" y1="80.02" x2="24.40" y2="80.02" stroke="#444" stroke-width="1.0" stroke-opacity="0.8"/>
<line x1="21.80" y1="51.62" x2="24.40" y2="51.62" stroke="#444" stroke-width="1.0" stroke-opacity="0.8"/>
<line x1="21.80" y1="90.17" x2="24.40" y2="90.17" stroke="#444" stroke-width="1.0" stroke-opacity="0.8"/>
<line x1="21.80" y1="104.35" x2="24.40" y2="104.35" stroke="#444" stroke-width="1.0" stroke-opacity="0.8"/>
<line x1="21.80" y1="71.15" x2="24.40" y2="71.15" stroke="#444" stroke-width="1.0" stroke-opacity="0.8"/>
<line x1="21.80" y1="61.41" x2="24.40" y2="61.41" stroke="#444" stroke-width="1.0" stroke-opacity="0.8"/>
<line x1="21.80" y1="102.22" x2="24.40" y2="102.22" stroke="#444" stroke-width="1.0" stroke-opacity="0.8"/>
<line x1="21.80" y1="87.87" x2="24.40" y2="87.87" stroke="#444" stroke-width="1.0" stroke-opacity="0.8"/>
<line x1="21.80" y1="88.31" x2="24.40" y2="88.31" stroke="#444" stroke-width="1.0" stroke-opacity="0.8"/>
<line x1="21.80" y1="93.51" x2="24.40" y2="93.51" stroke="#444" stroke-width="1.0" stroke-opacity="0.8"/>
<line x1="21.80" y1="95.77" x2="24.40" y2="95.77" stroke="#444" stroke-width="1.0" stroke-opacity="0.8"/>
<line x1="21.80" y1="106.36" x2="24.40" y2="106.36" stroke="#444" stroke-width="1.0" stroke-opacity="0.8"/>
<line x1="21.80" y1="104.91" x2="24.40" y2="104.91" stroke="#444" stroke-width="1.0" stroke-opacity="0.8"/>
<line x1="21.80" y1="13.50" x2="24.40" y2="13.50" stroke="#444" stroke-width="1.0" stroke-opacity="0.8"/>
<line x1="21.80" y1="18.50" x2="24.40" y2="18.50" stroke="#444" stroke-width="1.0" stroke-opacity="0.8"/>
<line x1="21.80" y1="25.00" x2="24.40" y2="25.00" stroke="#444" stroke-width="1.0" stroke-opacity="0.8"/>
<line x1="21.80" y1="35.70" x2="24.40" y2="35.70" stroke="#444" stroke-width="1.0" stroke-opacity="0.8"/>
<line x1="21.80" y1="40.40" x2="24.40" y2="40.40" stroke="#444" stroke-width="1.0" stroke-opacity="0.8"/>
<line x1="21.80" y1="31.00" x2="24.40" y2="31.00" stroke="#444" stroke-width="1.0" stroke-opacity="0.8"/>
<line x1="21.80" y1="50.50" x2="24.40" y2="50.50" stroke="#444" stroke-width="1.0" stroke-opacity="0.8"/>
<line x1="21.80" y1="121.00" x2="24.40" y2="121.00" stroke="#444" stroke-width="1.0" stroke-opacity="0.8"/>
<line x1="21.80" y1="114.00" x2="24.40" y2="114.00" stroke="#444" stroke-width="1.0" stroke-opacity="0.8"/>
<line x1="21.80" y1="117.00" x2="24.40" y2="117.00" stroke="#444" stroke-width="1.0" stroke-opacity="0.8"/>
<line x1="21.80" y1="106.00" x2="24.40" y2="106.00" stroke="#444" stroke-width="1.0" stroke-opacity="0.8"/>
<line x1="21.80" y1="98.00" x2="24.40" y2="98.00" stroke="#444" stroke-width="1.0" stroke-opacity="0.8"/>
<text x="0" y="0" font-size="7.6" text-anchor="middle" font-weight="bold" fill="#000" dominant-baseline="central" stroke="#000" stroke-width="0" transform="translate(211.10 4.90) scale(1 1.17)">B</text>
<rect x="231.8" y="9.2" width="157.7" height="117.8" fill="none" stroke="#8a8a8a" stroke-width="0.8"/>
<line x1="253.20" y1="127.00" x2="253.20" y2="129.00" stroke="#777" stroke-width="0.6"/>
<text x="0" y="0" font-size="4.3" text-anchor="middle" font-weight="normal" fill="#222" dominant-baseline="central" stroke="#222" stroke-width="0.03" transform="translate(253.20 133.40) scale(1 1.12)" letter-spacing="0.25">&#8722;5.5</text>
<line x1="278.40" y1="127.00" x2="278.40" y2="129.00" stroke="#777" stroke-width="0.6"/>
<text x="0" y="0" font-size="4.3" text-anchor="middle" font-weight="normal" fill="#222" dominant-baseline="central" stroke="#222" stroke-width="0.03" transform="translate(278.40 133.40) scale(1 1.12)" letter-spacing="0.25">&#8722;5.0</text>
<line x1="303.60" y1="127.00" x2="303.60" y2="129.00" stroke="#777" stroke-width="0.6"/>
<text x="0" y="0" font-size="4.3" text-anchor="middle" font-weight="normal" fill="#222" dominant-baseline="central" stroke="#222" stroke-width="0.03" transform="translate(303.60 133.40) scale(1 1.12)" letter-spacing="0.25">&#8722;4.5</text>
<line x1="328.90" y1="127.00" x2="328.90" y2="129.00" stroke="#777" stroke-width="0.6"/>
<text x="0" y="0" font-size="4.3" text-anchor="middle" font-weight="normal" fill="#222" dominant-baseline="central" stroke="#222" stroke-width="0.03" transform="translate(328.90 133.40) scale(1 1.12)" letter-spacing="0.25">&#8722;4.0</text>
<line x1="354.10" y1="127.00" x2="354.10" y2="129.00" stroke="#777" stroke-width="0.6"/>
<text x="0" y="0" font-size="4.3" text-anchor="middle" font-weight="normal" fill="#222" dominant-baseline="central" stroke="#222" stroke-width="0.03" transform="translate(354.10 133.40) scale(1 1.12)" letter-spacing="0.25">&#8722;3.5</text>
<line x1="379.30" y1="127.00" x2="379.30" y2="129.00" stroke="#777" stroke-width="0.6"/>
<text x="0" y="0" font-size="4.3" text-anchor="middle" font-weight="normal" fill="#222" dominant-baseline="central" stroke="#222" stroke-width="0.03" transform="translate(379.30 133.40) scale(1 1.12)" letter-spacing="0.25">&#8722;3.0</text>
<text x="0" y="0" font-size="4.3" text-anchor="middle" font-weight="normal" fill="#222" dominant-baseline="central" stroke="#222" stroke-width="0.03" transform="translate(237.70 3.00) scale(1 1.12)">97</text>
<text x="0" y="0" font-size="4.3" text-anchor="middle" font-weight="normal" fill="#222" dominant-baseline="central" stroke="#222" stroke-width="0.03" transform="translate(247.12 3.00) scale(1 1.12)">87</text>
<text x="0" y="0" font-size="4.3" text-anchor="middle" font-weight="normal" fill="#222" dominant-baseline="central" stroke="#222" stroke-width="0.03" transform="translate(256.54 3.00) scale(1 1.12)">88</text>
<text x="0" y="0" font-size="4.3" text-anchor="middle" font-weight="normal" fill="#222" dominant-baseline="central" stroke="#222" stroke-width="0.03" transform="translate(265.96 3.00) scale(1 1.12)">85</text>
<text x="0" y="0" font-size="4.3" text-anchor="middle" font-weight="normal" fill="#222" dominant-baseline="central" stroke="#222" stroke-width="0.03" transform="translate(275.38 3.00) scale(1 1.12)">71</text>
<text x="0" y="0" font-size="4.3" text-anchor="middle" font-weight="normal" fill="#222" dominant-baseline="central" stroke="#222" stroke-width="0.03" transform="translate(284.80 3.00) scale(1 1.12)">56</text>
<text x="0" y="0" font-size="4.3" text-anchor="middle" font-weight="normal" fill="#222" dominant-baseline="central" stroke="#222" stroke-width="0.03" transform="translate(294.22 3.00) scale(1 1.12)">49</text>
<text x="0" y="0" font-size="4.3" text-anchor="middle" font-weight="normal" fill="#222" dominant-baseline="central" stroke="#222" stroke-width="0.03" transform="translate(303.64 3.00) scale(1 1.12)">42</text>
<text x="0" y="0" font-size="4.3" text-anchor="middle" font-weight="normal" fill="#222" dominant-baseline="central" stroke="#222" stroke-width="0.03" transform="translate(313.06 3.00) scale(1 1.12)">38</text>
<text x="0" y="0" font-size="4.3" text-anchor="middle" font-weight="normal" fill="#222" dominant-baseline="central" stroke="#222" stroke-width="0.03" transform="translate(322.48 3.00) scale(1 1.12)">37</text>
<text x="0" y="0" font-size="4.3" text-anchor="middle" font-weight="normal" fill="#222" dominant-baseline="central" stroke="#222" stroke-width="0.03" transform="translate(331.90 3.00) scale(1 1.12)">30</text>
<text x="0" y="0" font-size="4.3" text-anchor="middle" font-weight="normal" fill="#222" dominant-baseline="central" stroke="#222" stroke-width="0.03" transform="translate(341.32 3.00) scale(1 1.12)">20</text>
<text x="0" y="0" font-size="4.3" text-anchor="middle" font-weight="normal" fill="#222" dominant-baseline="central" stroke="#222" stroke-width="0.03" transform="translate(350.74 3.00) scale(1 1.12)">17</text>
<text x="0" y="0" font-size="4.3" text-anchor="middle" font-weight="normal" fill="#222" dominant-baseline="central" stroke="#222" stroke-width="0.03" transform="translate(360.16 3.00) scale(1 1.12)">9</text>
<text x="0" y="0" font-size="4.3" text-anchor="middle" font-weight="normal" fill="#222" dominant-baseline="central" stroke="#222" stroke-width="0.03" transform="translate(369.58 3.00) scale(1 1.12)">5</text>
<text x="0" y="0" font-size="4.3" text-anchor="middle" font-weight="normal" fill="#222" dominant-baseline="central" stroke="#222" stroke-width="0.03" transform="translate(379.00 3.00) scale(1 1.12)">3</text>
<line x1="231.80" y1="34.10" x2="229.80" y2="34.10" stroke="#777" stroke-width="0.6"/>
<text x="0" y="0" font-size="4.3" text-anchor="middle" font-weight="normal" fill="#222" dominant-baseline="central" stroke="#222" stroke-width="0.03" transform="translate(224.30 34.10) rotate(-90) scale(1 1.0)">15</text>
<line x1="231.80" y1="60.90" x2="229.80" y2="60.90" stroke="#777" stroke-width="0.6"/>
<text x="0" y="0" font-size="4.3" text-anchor="middle" font-weight="normal" fill="#222" dominant-baseline="central" stroke="#222" stroke-width="0.03" transform="translate(224.30 60.90) rotate(-90) scale(1 1.0)">14</text>
<line x1="231.80" y1="87.90" x2="229.80" y2="87.90" stroke="#777" stroke-width="0.6"/>
<text x="0" y="0" font-size="4.3" text-anchor="middle" font-weight="normal" fill="#222" dominant-baseline="central" stroke="#222" stroke-width="0.03" transform="translate(224.30 87.90) rotate(-90) scale(1 1.0)">13</text>
<line x1="231.80" y1="114.40" x2="229.80" y2="114.40" stroke="#777" stroke-width="0.6"/>
<text x="0" y="0" font-size="4.3" text-anchor="middle" font-weight="normal" fill="#222" dominant-baseline="central" stroke="#222" stroke-width="0.03" transform="translate(224.30 114.40) rotate(-90) scale(1 1.0)">12</text>
<text x="0" y="0" font-size="5.4" text-anchor="middle" font-weight="normal" fill="#111" dominant-baseline="central" stroke="#111" stroke-width="0.0" transform="translate(214.90 59.00) rotate(-90) scale(1 1.05)">Partial Likelihood Deviance</text>
<text x="0" y="0" font-size="6.3" text-anchor="middle" font-weight="normal" fill="#000" dominant-baseline="central" stroke="#000" stroke-width="0.0" transform="translate(312.70 140.60) scale(1 1.08)">Log (&#955;)</text>
<line x1="313.10" y1="9.20" x2="313.10" y2="127.00" stroke="#b0b0b0" stroke-width="0.9"/>
<line x1="313.10" y1="9.20" x2="313.10" y2="127.00" stroke="#555" stroke-width="0.8" stroke-dasharray="0.9 1.3"/>
<line x1="383.60" y1="9.20" x2="383.60" y2="127.00" stroke="#b4b4b4" stroke-width="0.8"/>
<line x1="237.70" y1="13.10" x2="237.70" y2="60.10" stroke="#d6d6d6" stroke-width="0.85"/>
<line x1="236.40" y1="13.10" x2="239.00" y2="13.10" stroke="#d0d0d0" stroke-width="0.7"/>
<line x1="236.40" y1="60.10" x2="239.00" y2="60.10" stroke="#d0d0d0" stroke-width="0.7"/>
<line x1="242.41" y1="13.10" x2="242.41" y2="60.10" stroke="#d6d6d6" stroke-width="0.85"/>
<line x1="241.11" y1="13.10" x2="243.71" y2="13.10" stroke="#d0d0d0" stroke-width="0.7"/>
<line x1="241.11" y1="60.10" x2="243.71" y2="60.10" stroke="#d0d0d0" stroke-width="0.7"/>
<line x1="247.12" y1="16.60" x2="247.12" y2="63.80" stroke="#d6d6d6" stroke-width="0.85"/>
<line x1="245.82" y1="16.60" x2="248.42" y2="16.60" stroke="#d0d0d0" stroke-width="0.7"/>
<line x1="245.82" y1="63.80" x2="248.42" y2="63.80" stroke="#d0d0d0" stroke-width="0.7"/>
<line x1="251.83" y1="29.60" x2="251.83" y2="71.60" stroke="#d6d6d6" stroke-width="0.85"/>
<line x1="250.53" y1="29.60" x2="253.13" y2="29.60" stroke="#d0d0d0" stroke-width="0.7"/>
<line x1="250.53" y1="71.60" x2="253.13" y2="71.60" stroke="#d0d0d0" stroke-width="0.7"/>
<line x1="256.54" y1="45.40" x2="256.54" y2="80.60" stroke="#d6d6d6" stroke-width="0.85"/>
<line x1="255.24" y1="45.40" x2="257.84" y2="45.40" stroke="#d0d0d0" stroke-width="0.7"/>
<line x1="255.24" y1="80.60" x2="257.84" y2="80.60" stroke="#d0d0d0" stroke-width="0.7"/>
<line x1="261.25" y1="56.70" x2="261.25" y2="89.10" stroke="#d6d6d6" stroke-width="0.85"/>
<line x1="259.95" y1="56.70" x2="262.55" y2="56.70" stroke="#d0d0d0" stroke-width="0.7"/>
<line x1="259.95" y1="89.10" x2="262.55" y2="89.10" stroke="#d0d0d0" stroke-width="0.7"/>
<line x1="265.96" y1="64.70" x2="265.96" y2="94.70" stroke="#d6d6d6" stroke-width="0.85"/>
<line x1="264.66" y1="64.70" x2="267.26" y2="64.70" stroke="#d0d0d0" stroke-width="0.7"/>
<line x1="264.66" y1="94.70" x2="267.26" y2="94.70" stroke="#d0d0d0" stroke-width="0.7"/>
<line x1="270.67" y1="72.10" x2="270.67" y2="99.70" stroke="#d6d6d6" stroke-width="0.85"/>
<line x1="269.37" y1="72.10" x2="271.97" y2="72.10" stroke="#d0d0d0" stroke-width="0.7"/>
<line x1="269.37" y1="99.70" x2="271.97" y2="99.70" stroke="#d0d0d0" stroke-width="0.7"/>
<line x1="275.38" y1="78.30" x2="275.38" y2="105.10" stroke="#d6d6d6" stroke-width="0.85"/>
<line x1="274.08" y1="78.30" x2="276.68" y2="78.30" stroke="#d0d0d0" stroke-width="0.7"/>
<line x1="274.08" y1="105.10" x2="276.68" y2="105.10" stroke="#d0d0d0" stroke-width="0.7"/>
<line x1="280.09" y1="83.80" x2="280.09" y2="109.80" stroke="#d6d6d6" stroke-width="0.85"/>
<line x1="278.79" y1="83.80" x2="281.39" y2="83.80" stroke="#d0d0d0" stroke-width="0.7"/>
<line x1="278.79" y1="109.80" x2="281.39" y2="109.80" stroke="#d0d0d0" stroke-width="0.7"/>
<line x1="284.80" y1="88.40" x2="284.80" y2="113.20" stroke="#d6d6d6" stroke-width="0.85"/>
<line x1="283.50" y1="88.40" x2="286.10" y2="88.40" stroke="#d0d0d0" stroke-width="0.7"/>
<line x1="283.50" y1="113.20" x2="286.10" y2="113.20" stroke="#d0d0d0" stroke-width="0.7"/>
<line x1="289.51" y1="92.80" x2="289.51" y2="116.20" stroke="#d6d6d6" stroke-width="0.85"/>
<line x1="288.21" y1="92.80" x2="290.81" y2="92.80" stroke="#d0d0d0" stroke-width="0.7"/>
<line x1="288.21" y1="116.20" x2="290.81" y2="116.20" stroke="#d0d0d0" stroke-width="0.7"/>
<line x1="294.22" y1="96.20" x2="294.22" y2="118.40" stroke="#d6d6d6" stroke-width="0.85"/>
<line x1="292.92" y1="96.20" x2="295.52" y2="96.20" stroke="#d0d0d0" stroke-width="0.7"/>
<line x1="292.92" y1="118.40" x2="295.52" y2="118.40" stroke="#d0d0d0" stroke-width="0.7"/>
<line x1="298.93" y1="98.80" x2="298.93" y2="120.00" stroke="#d6d6d6" stroke-width="0.85"/>
<line x1="297.63" y1="98.80" x2="300.23" y2="98.80" stroke="#d0d0d0" stroke-width="0.7"/>
<line x1="297.63" y1="120.00" x2="300.23" y2="120.00" stroke="#d0d0d0" stroke-width="0.7"/>
<line x1="303.64" y1="100.40" x2="303.64" y2="121.60" stroke="#d6d6d6" stroke-width="0.85"/>
<line x1="302.34" y1="100.40" x2="304.94" y2="100.40" stroke="#d0d0d0" stroke-width="0.7"/>
<line x1="302.34" y1="121.60" x2="304.94" y2="121.60" stroke="#d0d0d0" stroke-width="0.7"/>
<line x1="308.35" y1="101.90" x2="308.35" y2="122.50" stroke="#d6d6d6" stroke-width="0.85"/>
<line x1="307.05" y1="101.90" x2="309.65" y2="101.90" stroke="#d0d0d0" stroke-width="0.7"/>
<line x1="307.05" y1="122.50" x2="309.65" y2="122.50" stroke="#d0d0d0" stroke-width="0.7"/>
<line x1="313.06" y1="102.10" x2="313.06" y2="122.30" stroke="#d6d6d6" stroke-width="0.85"/>
<line x1="311.76" y1="102.10" x2="314.36" y2="102.10" stroke="#d0d0d0" stroke-width="0.7"/>
<line x1="311.76" y1="122.30" x2="314.36" y2="122.30" stroke="#d0d0d0" stroke-width="0.7"/>
<line x1="317.77" y1="102.10" x2="317.77" y2="122.30" stroke="#d6d6d6" stroke-width="0.85"/>
<line x1="316.47" y1="102.10" x2="319.07" y2="102.10" stroke="#d0d0d0" stroke-width="0.7"/>
<line x1="316.47" y1="122.30" x2="319.07" y2="122.30" stroke="#d0d0d0" stroke-width="0.7"/>
<line x1="322.48" y1="102.10" x2="322.48" y2="121.90" stroke="#d6d6d6" stroke-width="0.85"/>
<line x1="321.18" y1="102.10" x2="323.78" y2="102.10" stroke="#d0d0d0" stroke-width="0.7"/>
<line x1="321.18" y1="121.90" x2="323.78" y2="121.90" stroke="#d0d0d0" stroke-width="0.7"/>
<line x1="327.19" y1="102.10" x2="327.19" y2="121.70" stroke="#d6d6d6" stroke-width="0.85"/>
<line x1="325.89" y1="102.10" x2="328.49" y2="102.10" stroke="#d0d0d0" stroke-width="0.7"/>
<line x1="325.89" y1="121.70" x2="328.49" y2="121.70" stroke="#d0d0d0" stroke-width="0.7"/>
<line x1="331.90" y1="102.10" x2="331.90" y2="121.50" stroke="#d6d6d6" stroke-width="0.85"/>
<line x1="330.60" y1="102.10" x2="333.20" y2="102.10" stroke="#d0d0d0" stroke-width="0.7"/>
<line x1="330.60" y1="121.50" x2="333.20" y2="121.50" stroke="#d0d0d0" stroke-width="0.7"/>
<line x1="336.61" y1="102.10" x2="336.61" y2="121.30" stroke="#d6d6d6" stroke-width="0.85"/>
<line x1="335.31" y1="102.10" x2="337.91" y2="102.10" stroke="#d0d0d0" stroke-width="0.7"/>
<line x1="335.31" y1="121.30" x2="337.91" y2="121.30" stroke="#d0d0d0" stroke-width="0.7"/>
<line x1="341.32" y1="102.10" x2="341.32" y2="121.10" stroke="#d6d6d6" stroke-width="0.85"/>
<line x1="340.02" y1="102.10" x2="342.62" y2="102.10" stroke="#d0d0d0" stroke-width="0.7"/>
<line x1="340.02" y1="121.10" x2="342.62" y2="121.10" stroke="#d0d0d0" stroke-width="0.7"/>
<line x1="346.03" y1="102.10" x2="346.03" y2="120.90" stroke="#d6d6d6" stroke-width="0.85"/>
<line x1="344.73" y1="102.10" x2="347.33" y2="102.10" stroke="#d0d0d0" stroke-width="0.7"/>
<line x1="344.73" y1="120.90" x2="347.33" y2="120.90" stroke="#d0d0d0" stroke-width="0.7"/>
<line x1="350.74" y1="102.10" x2="350.74" y2="120.70" stroke="#d6d6d6" stroke-width="0.85"/>
<line x1="349.44" y1="102.10" x2="352.04" y2="102.10" stroke="#d0d0d0" stroke-width="0.7"/>
<line x1="349.44" y1="120.70" x2="352.04" y2="120.70" stroke="#d0d0d0" stroke-width="0.7"/>
<line x1="355.45" y1="102.10" x2="355.45" y2="120.50" stroke="#d6d6d6" stroke-width="0.85"/>
<line x1="354.15" y1="102.10" x2="356.75" y2="102.10" stroke="#d0d0d0" stroke-width="0.7"/>
<line x1="354.15" y1="120.50" x2="356.75" y2="120.50" stroke="#d0d0d0" stroke-width="0.7"/>
<line x1="360.16" y1="102.10" x2="360.16" y2="120.30" stroke="#d6d6d6" stroke-width="0.85"/>
<line x1="358.86" y1="102.10" x2="361.46" y2="102.10" stroke="#d0d0d0" stroke-width="0.7"/>
<line x1="358.86" y1="120.30" x2="361.46" y2="120.30" stroke="#d0d0d0" stroke-width="0.7"/>
<line x1="364.87" y1="102.10" x2="364.87" y2="119.90" stroke="#d6d6d6" stroke-width="0.85"/>
<line x1="363.57" y1="102.10" x2="366.17" y2="102.10" stroke="#d0d0d0" stroke-width="0.7"/>
<line x1="363.57" y1="119.90" x2="366.17" y2="119.90" stroke="#d0d0d0" stroke-width="0.7"/>
<line x1="369.58" y1="102.20" x2="369.58" y2="119.40" stroke="#d6d6d6" stroke-width="0.85"/>
<line x1="368.28" y1="102.20" x2="370.88" y2="102.20" stroke="#d0d0d0" stroke-width="0.7"/>
<line x1="368.28" y1="119.40" x2="370.88" y2="119.40" stroke="#d0d0d0" stroke-width="0.7"/>
<line x1="374.29" y1="102.20" x2="374.29" y2="118.80" stroke="#d6d6d6" stroke-width="0.85"/>
<line x1="372.99" y1="102.20" x2="375.59" y2="102.20" stroke="#d0d0d0" stroke-width="0.7"/>
<line x1="372.99" y1="118.80" x2="375.59" y2="118.80" stroke="#d0d0d0" stroke-width="0.7"/>
<line x1="379.00" y1="102.30" x2="379.00" y2="118.30" stroke="#d6d6d6" stroke-width="0.85"/>
<line x1="377.70" y1="102.30" x2="380.30" y2="102.30" stroke="#d0d0d0" stroke-width="0.7"/>
<line x1="377.70" y1="118.30" x2="380.30" y2="118.30" stroke="#d0d0d0" stroke-width="0.7"/>
<line x1="383.71" y1="102.50" x2="383.71" y2="117.70" stroke="#d6d6d6" stroke-width="0.85"/>
<line x1="382.41" y1="102.50" x2="385.01" y2="102.50" stroke="#d0d0d0" stroke-width="0.7"/>
<line x1="382.41" y1="117.70" x2="385.01" y2="117.70" stroke="#d0d0d0" stroke-width="0.7"/>
<circle cx="237.70" cy="36.60" r="1.7" fill="#f2b8c2" fill-opacity="0.45"/>
<circle cx="237.70" cy="36.60" r="1.0" fill="#9a2a3a"/>
<circle cx="242.41" cy="36.60" r="1.7" fill="#f2b8c2" fill-opacity="0.45"/>
<circle cx="242.41" cy="36.60" r="1.0" fill="#9a2a3a"/>
<circle cx="247.12" cy="40.20" r="1.7" fill="#f2b8c2" fill-opacity="0.45"/>
<circle cx="247.12" cy="40.20" r="1.0" fill="#9a2a3a"/>
<circle cx="251.83" cy="50.60" r="1.7" fill="#f2b8c2" fill-opacity="0.45"/>
<circle cx="251.83" cy="50.60" r="1.0" fill="#9a2a3a"/>
<circle cx="256.54" cy="63.00" r="1.7" fill="#f2b8c2" fill-opacity="0.45"/>
<circle cx="256.54" cy="63.00" r="1.0" fill="#9a2a3a"/>
<circle cx="261.25" cy="72.90" r="1.7" fill="#f2b8c2" fill-opacity="0.45"/>
<circle cx="261.25" cy="72.90" r="1.0" fill="#9a2a3a"/>
<circle cx="265.96" cy="79.70" r="1.7" fill="#f2b8c2" fill-opacity="0.45"/>
<circle cx="265.96" cy="79.70" r="1.0" fill="#9a2a3a"/>
<circle cx="270.67" cy="85.90" r="1.7" fill="#f2b8c2" fill-opacity="0.45"/>
<circle cx="270.67" cy="85.90" r="1.0" fill="#9a2a3a"/>
<circle cx="275.38" cy="91.70" r="1.7" fill="#f2b8c2" fill-opacity="0.45"/>
<circle cx="275.38" cy="91.70" r="1.0" fill="#9a2a3a"/>
<circle cx="280.09" cy="96.80" r="1.7" fill="#f2b8c2" fill-opacity="0.45"/>
<circle cx="280.09" cy="96.80" r="1.0" fill="#9a2a3a"/>
<circle cx="284.80" cy="100.80" r="1.7" fill="#f2b8c2" fill-opacity="0.45"/>
<circle cx="284.80" cy="100.80" r="1.0" fill="#9a2a3a"/>
<circle cx="289.51" cy="104.50" r="1.7" fill="#f2b8c2" fill-opacity="0.45"/>
<circle cx="289.51" cy="104.50" r="1.0" fill="#9a2a3a"/>
<circle cx="294.22" cy="107.30" r="1.7" fill="#f2b8c2" fill-opacity="0.45"/>
<circle cx="294.22" cy="107.30" r="1.0" fill="#9a2a3a"/>
<circle cx="298.93" cy="109.40" r="1.7" fill="#f2b8c2" fill-opacity="0.45"/>
<circle cx="298.93" cy="109.40" r="1.0" fill="#9a2a3a"/>
<circle cx="303.64" cy="111.00" r="1.7" fill="#f2b8c2" fill-opacity="0.45"/>
<circle cx="303.64" cy="111.00" r="1.0" fill="#9a2a3a"/>
<circle cx="308.35" cy="112.20" r="1.7" fill="#f2b8c2" fill-opacity="0.45"/>
<circle cx="308.35" cy="112.20" r="1.0" fill="#9a2a3a"/>
<circle cx="313.06" cy="112.20" r="1.7" fill="#f2b8c2" fill-opacity="0.45"/>
<circle cx="313.06" cy="112.20" r="1.0" fill="#9a2a3a"/>
<circle cx="317.77" cy="112.20" r="1.7" fill="#f2b8c2" fill-opacity="0.45"/>
<circle cx="317.77" cy="112.20" r="1.0" fill="#9a2a3a"/>
<circle cx="322.48" cy="112.00" r="1.7" fill="#f2b8c2" fill-opacity="0.45"/>
<circle cx="322.48" cy="112.00" r="1.0" fill="#9a2a3a"/>
<circle cx="327.19" cy="111.90" r="1.7" fill="#f2b8c2" fill-opacity="0.45"/>
<circle cx="327.19" cy="111.90" r="1.0" fill="#9a2a3a"/>
<circle cx="331.90" cy="111.80" r="1.7" fill="#f2b8c2" fill-opacity="0.45"/>
<circle cx="331.90" cy="111.80" r="1.0" fill="#9a2a3a"/>
<circle cx="336.61" cy="111.70" r="1.7" fill="#f2b8c2" fill-opacity="0.45"/>
<circle cx="336.61" cy="111.70" r="1.0" fill="#9a2a3a"/>
<circle cx="341.32" cy="111.60" r="1.7" fill="#f2b8c2" fill-opacity="0.45"/>
<circle cx="341.32" cy="111.60" r="1.0" fill="#9a2a3a"/>
<circle cx="346.03" cy="111.50" r="1.7" fill="#f2b8c2" fill-opacity="0.45"/>
<circle cx="346.03" cy="111.50" r="1.0" fill="#9a2a3a"/>
<circle cx="350.74" cy="111.40" r="1.7" fill="#f2b8c2" fill-opacity="0.45"/>
<circle cx="350.74" cy="111.40" r="1.0" fill="#9a2a3a"/>
<circle cx="355.45" cy="111.30" r="1.7" fill="#f2b8c2" fill-opacity="0.45"/>
<circle cx="355.45" cy="111.30" r="1.0" fill="#9a2a3a"/>
<circle cx="360.16" cy="111.20" r="1.7" fill="#f2b8c2" fill-opacity="0.45"/>
<circle cx="360.16" cy="111.20" r="1.0" fill="#9a2a3a"/>
<circle cx="364.87" cy="111.00" r="1.7" fill="#f2b8c2" fill-opacity="0.45"/>
<circle cx="364.87" cy="111.00" r="1.0" fill="#9a2a3a"/>
<circle cx="369.58" cy="110.80" r="1.7" fill="#f2b8c2" fill-opacity="0.45"/>
<circle cx="369.58" cy="110.80" r="1.0" fill="#9a2a3a"/>
<circle cx="374.29" cy="110.50" r="1.7" fill="#f2b8c2" fill-opacity="0.45"/>
<circle cx="374.29" cy="110.50" r="1.0" fill="#9a2a3a"/>
<circle cx="379.00" cy="110.30" r="1.7" fill="#f2b8c2" fill-opacity="0.45"/>
<circle cx="379.00" cy="110.30" r="1.0" fill="#9a2a3a"/>
<circle cx="383.71" cy="110.10" r="1.7" fill="#f2b8c2" fill-opacity="0.45"/>
<circle cx="383.71" cy="110.10" r="1.0" fill="#9a2a3a"/>
<text x="0" y="0" font-size="7.6" text-anchor="middle" font-weight="bold" fill="#000" dominant-baseline="central" stroke="#000" stroke-width="0" transform="translate(4.20 157.90) scale(1 1.22)">C</text>
<line x1="14.60" y1="163.50" x2="14.60" y2="245.80" stroke="#b0b0b0" stroke-width="1.1"/>
<line x1="14.60" y1="245.80" x2="124.40" y2="245.80" stroke="#444" stroke-width="0.7"/>
<line x1="13.30" y1="167.50" x2="14.60" y2="167.50" stroke="#888" stroke-width="0.5"/>
<text x="0" y="0" font-size="2.55" text-anchor="end" font-weight="normal" fill="#333" dominant-baseline="central" stroke="#333" stroke-width="0.06" transform="translate(12.10 167.50) scale(1 1.5)">1.00</text>
<line x1="13.30" y1="186.12" x2="14.60" y2="186.12" stroke="#888" stroke-width="0.5"/>
<text x="0" y="0" font-size="2.55" text-anchor="end" font-weight="normal" fill="#333" dominant-baseline="central" stroke="#333" stroke-width="0.06" transform="translate(12.10 186.12) scale(1 1.5)">0.75</text>
<line x1="13.30" y1="204.75" x2="14.60" y2="204.75" stroke="#888" stroke-width="0.5"/>
<text x="0" y="0" font-size="2.55" text-anchor="end" font-weight="normal" fill="#333" dominant-baseline="central" stroke="#333" stroke-width="0.06" transform="translate(12.10 204.75) scale(1 1.5)">0.50</text>
<line x1="13.30" y1="223.38" x2="14.60" y2="223.38" stroke="#888" stroke-width="0.5"/>
<text x="0" y="0" font-size="2.55" text-anchor="end" font-weight="normal" fill="#333" dominant-baseline="central" stroke="#333" stroke-width="0.06" transform="translate(12.10 223.38) scale(1 1.5)">0.25</text>
<line x1="13.30" y1="242.00" x2="14.60" y2="242.00" stroke="#888" stroke-width="0.5"/>
<text x="0" y="0" font-size="2.55" text-anchor="end" font-weight="normal" fill="#333" dominant-baseline="central" stroke="#333" stroke-width="0.06" transform="translate(12.10 242.00) scale(1 1.5)">0</text>
<line x1="19.30" y1="245.80" x2="19.30" y2="247.00" stroke="#666" stroke-width="0.4"/>
<text x="0" y="0" font-size="2.75" text-anchor="middle" font-weight="normal" fill="#222" dominant-baseline="central" stroke="#222" stroke-width="0.05" transform="translate(19.30 249.40) scale(1 1.3)">0</text>
<line x1="24.21" y1="245.80" x2="24.21" y2="247.00" stroke="#666" stroke-width="0.4"/>
<text x="0" y="0" font-size="2.75" text-anchor="middle" font-weight="normal" fill="#222" dominant-baseline="central" stroke="#222" stroke-width="0.05" transform="translate(24.21 249.40) scale(1 1.3)">1</text>
<line x1="29.11" y1="245.80" x2="29.11" y2="247.00" stroke="#666" stroke-width="0.4"/>
<text x="0" y="0" font-size="2.75" text-anchor="middle" font-weight="normal" fill="#222" dominant-baseline="central" stroke="#222" stroke-width="0.05" transform="translate(29.11 249.40) scale(1 1.3)">2</text>
<line x1="34.02" y1="245.80" x2="34.02" y2="247.00" stroke="#666" stroke-width="0.4"/>
<text x="0" y="0" font-size="2.75" text-anchor="middle" font-weight="normal" fill="#222" dominant-baseline="central" stroke="#222" stroke-width="0.05" transform="translate(34.02 249.40) scale(1 1.3)">3</text>
<line x1="38.92" y1="245.80" x2="38.92" y2="247.00" stroke="#666" stroke-width="0.4"/>
<text x="0" y="0" font-size="2.75" text-anchor="middle" font-weight="normal" fill="#222" dominant-baseline="central" stroke="#222" stroke-width="0.05" transform="translate(38.92 249.40) scale(1 1.3)">4</text>
<line x1="43.83" y1="245.80" x2="43.83" y2="247.00" stroke="#666" stroke-width="0.4"/>
<text x="0" y="0" font-size="2.75" text-anchor="middle" font-weight="normal" fill="#222" dominant-baseline="central" stroke="#222" stroke-width="0.05" transform="translate(43.83 249.40) scale(1 1.3)">5</text>
<line x1="48.73" y1="245.80" x2="48.73" y2="247.00" stroke="#666" stroke-width="0.4"/>
<text x="0" y="0" font-size="2.75" text-anchor="middle" font-weight="normal" fill="#222" dominant-baseline="central" stroke="#222" stroke-width="0.05" transform="translate(48.73 249.40) scale(1 1.3)">6</text>
<line x1="53.64" y1="245.80" x2="53.64" y2="247.00" stroke="#666" stroke-width="0.4"/>
<text x="0" y="0" font-size="2.75" text-anchor="middle" font-weight="normal" fill="#222" dominant-baseline="central" stroke="#222" stroke-width="0.05" transform="translate(53.64 249.40) scale(1 1.3)">7</text>
<line x1="58.54" y1="245.80" x2="58.54" y2="247.00" stroke="#666" stroke-width="0.4"/>
<text x="0" y="0" font-size="2.75" text-anchor="middle" font-weight="normal" fill="#222" dominant-baseline="central" stroke="#222" stroke-width="0.05" transform="translate(58.54 249.40) scale(1 1.3)">8</text>
<line x1="63.45" y1="245.80" x2="63.45" y2="247.00" stroke="#666" stroke-width="0.4"/>
<text x="0" y="0" font-size="2.75" text-anchor="middle" font-weight="normal" fill="#222" dominant-baseline="central" stroke="#222" stroke-width="0.05" transform="translate(63.45 249.40) scale(1 1.3)">9</text>
<line x1="68.35" y1="245.80" x2="68.35" y2="247.00" stroke="#666" stroke-width="0.4"/>
<text x="0" y="0" font-size="2.75" text-anchor="middle" font-weight="normal" fill="#222" dominant-baseline="central" stroke="#222" stroke-width="0.05" transform="translate(68.35 249.40) scale(1 1.3)">10</text>
<line x1="73.26" y1="245.80" x2="73.26" y2="247.00" stroke="#666" stroke-width="0.4"/>
<text x="0" y="0" font-size="2.75" text-anchor="middle" font-weight="normal" fill="#222" dominant-baseline="central" stroke="#222" stroke-width="0.05" transform="translate(73.26 249.40) scale(1 1.3)">11</text>
<line x1="78.16" y1="245.80" x2="78.16" y2="247.00" stroke="#666" stroke-width="0.4"/>
<text x="0" y="0" font-size="2.75" text-anchor="middle" font-weight="normal" fill="#222" dominant-baseline="central" stroke="#222" stroke-width="0.05" transform="translate(78.16 249.40) scale(1 1.3)">12</text>
<line x1="83.06" y1="245.80" x2="83.06" y2="247.00" stroke="#666" stroke-width="0.4"/>
<text x="0" y="0" font-size="2.75" text-anchor="middle" font-weight="normal" fill="#222" dominant-baseline="central" stroke="#222" stroke-width="0.05" transform="translate(83.06 249.40) scale(1 1.3)">13</text>
<line x1="87.97" y1="245.80" x2="87.97" y2="247.00" stroke="#666" stroke-width="0.4"/>
<text x="0" y="0" font-size="2.75" text-anchor="middle" font-weight="normal" fill="#222" dominant-baseline="central" stroke="#222" stroke-width="0.05" transform="translate(87.97 249.40) scale(1 1.3)">14</text>
<line x1="92.88" y1="245.80" x2="92.88" y2="247.00" stroke="#666" stroke-width="0.4"/>
<text x="0" y="0" font-size="2.75" text-anchor="middle" font-weight="normal" fill="#222" dominant-baseline="central" stroke="#222" stroke-width="0.05" transform="translate(92.88 249.40) scale(1 1.3)">15</text>
<line x1="97.78" y1="245.80" x2="97.78" y2="247.00" stroke="#666" stroke-width="0.4"/>
<text x="0" y="0" font-size="2.75" text-anchor="middle" font-weight="normal" fill="#222" dominant-baseline="central" stroke="#222" stroke-width="0.05" transform="translate(97.78 249.40) scale(1 1.3)">16</text>
<line x1="102.69" y1="245.80" x2="102.69" y2="247.00" stroke="#666" stroke-width="0.4"/>
<text x="0" y="0" font-size="2.75" text-anchor="middle" font-weight="normal" fill="#222" dominant-baseline="central" stroke="#222" stroke-width="0.05" transform="translate(102.69 249.40) scale(1 1.3)">17</text>
<line x1="107.59" y1="245.80" x2="107.59" y2="247.00" stroke="#666" stroke-width="0.4"/>
<text x="0" y="0" font-size="2.75" text-anchor="middle" font-weight="normal" fill="#222" dominant-baseline="central" stroke="#222" stroke-width="0.05" transform="translate(107.59 249.40) scale(1 1.3)">18</text>
<line x1="112.50" y1="245.80" x2="112.50" y2="247.00" stroke="#666" stroke-width="0.4"/>
<text x="0" y="0" font-size="2.75" text-anchor="middle" font-weight="normal" fill="#222" dominant-baseline="central" stroke="#222" stroke-width="0.05" transform="translate(112.50 249.40) scale(1 1.3)">19</text>
<line x1="117.40" y1="245.80" x2="117.40" y2="247.00" stroke="#666" stroke-width="0.4"/>
<text x="0" y="0" font-size="2.75" text-anchor="middle" font-weight="normal" fill="#222" dominant-baseline="central" stroke="#222" stroke-width="0.05" transform="translate(117.40 249.40) scale(1 1.3)">20</text>
<line x1="122.31" y1="245.80" x2="122.31" y2="247.00" stroke="#666" stroke-width="0.4"/>
<text x="0" y="0" font-size="2.75" text-anchor="middle" font-weight="normal" fill="#222" dominant-baseline="central" stroke="#222" stroke-width="0.05" transform="translate(122.31 249.40) scale(1 1.3)">21</text>
<text x="0" y="0" font-size="3.5" text-anchor="middle" font-weight="normal" fill="#111" dominant-baseline="central" stroke="#111" stroke-width="0.05" transform="translate(69.50 253.20) scale(1 1.12)">Time(years)</text>
<text x="0" y="0" font-size="5.9" text-anchor="middle" font-weight="normal" fill="#2a2a2a" dominant-baseline="central" stroke="#2a2a2a" stroke-width="0.0" transform="translate(2.60 199.95) rotate(-90) scale(1 1.0)">Survival probability</text>
<text x="0" y="0" font-size="4.0" text-anchor="start" font-weight="normal" fill="#111" dominant-baseline="central" stroke="#111" stroke-width="0.03" transform="translate(21.20 227.50) scale(1 1.22)">p&lt;0.001</text>
<path d="M19.00 167.30 L27.50 170.50 L31.20 175.00 L34.20 181.00 L40.20 184.70 L44.00 190.00 L50.00 193.70 L54.50 200.50 L56.70 202.50 L59.70 209.50 L62.00 213.00 L66.50 216.70 L71.70 216.70 L73.20 222.70 L77.70 223.50 L78.50 226.80 L107.70 226.80 L107.70 232.30 L123.60 232.30" fill="none" stroke="#c46070" stroke-width="0.95" stroke-linejoin="round"/>
<path d="M19.00 167.30 L40.00 169.50 L59.00 172.00 L63.50 173.20 L66.60 173.20 L66.60 176.50 L68.50 176.50 L68.50 180.00 L70.50 180.00 L70.50 182.00 L73.10 182.00 L73.10 185.30 L109.70 185.30 L109.70 199.40 L121.70 199.40 L121.70 242.00" fill="none" stroke="#2b6f68" stroke-width="0.95" stroke-linejoin="round"/>
<line x1="51.00" y1="161.10" x2="54.80" y2="161.10" stroke="#c46070" stroke-width="1.15"/>
<text x="0" y="0" font-size="3.6" text-anchor="start" font-weight="normal" fill="#222" dominant-baseline="central" stroke="#222" stroke-width="0.03" transform="translate(57.60 161.60) scale(1 1.3)">High risk</text>
<line x1="77.30" y1="161.10" x2="81.00" y2="161.10" stroke="#2b6f68" stroke-width="1.15"/>
<text x="0" y="0" font-size="3.6" text-anchor="start" font-weight="normal" fill="#222" dominant-baseline="central" stroke="#222" stroke-width="0.03" transform="translate(82.90 161.60) scale(1 1.3)">Low risk</text>
<text x="0" y="0" font-size="7.6" text-anchor="middle" font-weight="bold" fill="#000" dominant-baseline="central" stroke="#000" stroke-width="0" transform="translate(132.60 157.95) scale(1 1.22)">D</text>
<line x1="147.80" y1="163.60" x2="147.80" y2="246.30" stroke="#b0b0b0" stroke-width="1.1"/>
<line x1="147.80" y1="246.30" x2="257.50" y2="246.30" stroke="#444" stroke-width="0.7"/>
<line x1="146.50" y1="167.60" x2="147.80" y2="167.60" stroke="#888" stroke-width="0.5"/>
<text x="0" y="0" font-size="2.55" text-anchor="end" font-weight="normal" fill="#333" dominant-baseline="central" stroke="#333" stroke-width="0.06" transform="translate(145.30 167.60) scale(1 1.5)">1.00</text>
<line x1="146.50" y1="186.30" x2="147.80" y2="186.30" stroke="#888" stroke-width="0.5"/>
<text x="0" y="0" font-size="2.55" text-anchor="end" font-weight="normal" fill="#333" dominant-baseline="central" stroke="#333" stroke-width="0.06" transform="translate(145.30 186.30) scale(1 1.5)">0.75</text>
<line x1="146.50" y1="205.00" x2="147.80" y2="205.00" stroke="#888" stroke-width="0.5"/>
<text x="0" y="0" font-size="2.55" text-anchor="end" font-weight="normal" fill="#333" dominant-baseline="central" stroke="#333" stroke-width="0.06" transform="translate(145.30 205.00) scale(1 1.5)">0.50</text>
<line x1="146.50" y1="223.70" x2="147.80" y2="223.70" stroke="#888" stroke-width="0.5"/>
<text x="0" y="0" font-size="2.55" text-anchor="end" font-weight="normal" fill="#333" dominant-baseline="central" stroke="#333" stroke-width="0.06" transform="translate(145.30 223.70) scale(1 1.5)">0.25</text>
<line x1="146.50" y1="242.40" x2="147.80" y2="242.40" stroke="#888" stroke-width="0.5"/>
<text x="0" y="0" font-size="2.55" text-anchor="end" font-weight="normal" fill="#333" dominant-baseline="central" stroke="#333" stroke-width="0.06" transform="translate(145.30 242.40) scale(1 1.5)">0</text>
<line x1="152.75" y1="246.30" x2="152.75" y2="247.50" stroke="#666" stroke-width="0.4"/>
<text x="0" y="0" font-size="2.75" text-anchor="middle" font-weight="normal" fill="#222" dominant-baseline="central" stroke="#222" stroke-width="0.05" transform="translate(152.75 249.90) scale(1 1.3)">0</text>
<line x1="156.75" y1="246.30" x2="156.75" y2="247.50" stroke="#666" stroke-width="0.4"/>
<text x="0" y="0" font-size="2.75" text-anchor="middle" font-weight="normal" fill="#222" dominant-baseline="central" stroke="#222" stroke-width="0.05" transform="translate(156.75 249.90) scale(1 1.3)">1</text>
<line x1="160.75" y1="246.30" x2="160.75" y2="247.50" stroke="#666" stroke-width="0.4"/>
<text x="0" y="0" font-size="2.75" text-anchor="middle" font-weight="normal" fill="#222" dominant-baseline="central" stroke="#222" stroke-width="0.05" transform="translate(160.75 249.90) scale(1 1.3)">2</text>
<line x1="164.75" y1="246.30" x2="164.75" y2="247.50" stroke="#666" stroke-width="0.4"/>
<text x="0" y="0" font-size="2.75" text-anchor="middle" font-weight="normal" fill="#222" dominant-baseline="central" stroke="#222" stroke-width="0.05" transform="translate(164.75 249.90) scale(1 1.3)">3</text>
<line x1="168.75" y1="246.30" x2="168.75" y2="247.50" stroke="#666" stroke-width="0.4"/>
<text x="0" y="0" font-size="2.75" text-anchor="middle" font-weight="normal" fill="#222" dominant-baseline="central" stroke="#222" stroke-width="0.05" transform="translate(168.75 249.90) scale(1 1.3)">4</text>
<line x1="172.75" y1="246.30" x2="172.75" y2="247.50" stroke="#666" stroke-width="0.4"/>
<text x="0" y="0" font-size="2.75" text-anchor="middle" font-weight="normal" fill="#222" dominant-baseline="central" stroke="#222" stroke-width="0.05" transform="translate(172.75 249.90) scale(1 1.3)">5</text>
<line x1="176.75" y1="246.30" x2="176.75" y2="247.50" stroke="#666" stroke-width="0.4"/>
<text x="0" y="0" font-size="2.75" text-anchor="middle" font-weight="normal" fill="#222" dominant-baseline="central" stroke="#222" stroke-width="0.05" transform="translate(176.75 249.90) scale(1 1.3)">6</text>
<line x1="180.75" y1="246.30" x2="180.75" y2="247.50" stroke="#666" stroke-width="0.4"/>
<text x="0" y="0" font-size="2.75" text-anchor="middle" font-weight="normal" fill="#222" dominant-baseline="central" stroke="#222" stroke-width="0.05" transform="translate(180.75 249.90) scale(1 1.3)">7</text>
<line x1="184.75" y1="246.30" x2="184.75" y2="247.50" stroke="#666" stroke-width="0.4"/>
<text x="0" y="0" font-size="2.75" text-anchor="middle" font-weight="normal" fill="#222" dominant-baseline="central" stroke="#222" stroke-width="0.05" transform="translate(184.75 249.90) scale(1 1.3)">8</text>
<line x1="188.75" y1="246.30" x2="188.75" y2="247.50" stroke="#666" stroke-width="0.4"/>
<text x="0" y="0" font-size="2.75" text-anchor="middle" font-weight="normal" fill="#222" dominant-baseline="central" stroke="#222" stroke-width="0.05" transform="translate(188.75 249.90) scale(1 1.3)">9</text>
<line x1="192.75" y1="246.30" x2="192.75" y2="247.50" stroke="#666" stroke-width="0.4"/>
<text x="0" y="0" font-size="2.75" text-anchor="middle" font-weight="normal" fill="#222" dominant-baseline="central" stroke="#222" stroke-width="0.05" transform="translate(192.75 249.90) scale(1 1.3)">10</text>
<line x1="196.75" y1="246.30" x2="196.75" y2="247.50" stroke="#666" stroke-width="0.4"/>
<text x="0" y="0" font-size="2.75" text-anchor="middle" font-weight="normal" fill="#222" dominant-baseline="central" stroke="#222" stroke-width="0.05" transform="translate(196.75 249.90) scale(1 1.3)">11</text>
<line x1="200.75" y1="246.30" x2="200.75" y2="247.50" stroke="#666" stroke-width="0.4"/>
<text x="0" y="0" font-size="2.75" text-anchor="middle" font-weight="normal" fill="#222" dominant-baseline="central" stroke="#222" stroke-width="0.05" transform="translate(200.75 249.90) scale(1 1.3)">12</text>
<line x1="204.75" y1="246.30" x2="204.75" y2="247.50" stroke="#666" stroke-width="0.4"/>
<text x="0" y="0" font-size="2.75" text-anchor="middle" font-weight="normal" fill="#222" dominant-baseline="central" stroke="#222" stroke-width="0.05" transform="translate(204.75 249.90) scale(1 1.3)">13</text>
<line x1="208.75" y1="246.30" x2="208.75" y2="247.50" stroke="#666" stroke-width="0.4"/>
<text x="0" y="0" font-size="2.75" text-anchor="middle" font-weight="normal" fill="#222" dominant-baseline="central" stroke="#222" stroke-width="0.05" transform="translate(208.75 249.90) scale(1 1.3)">14</text>
<line x1="212.75" y1="246.30" x2="212.75" y2="247.50" stroke="#666" stroke-width="0.4"/>
<text x="0" y="0" font-size="2.75" text-anchor="middle" font-weight="normal" fill="#222" dominant-baseline="central" stroke="#222" stroke-width="0.05" transform="translate(212.75 249.90) scale(1 1.3)">15</text>
<line x1="216.75" y1="246.30" x2="216.75" y2="247.50" stroke="#666" stroke-width="0.4"/>
<text x="0" y="0" font-size="2.75" text-anchor="middle" font-weight="normal" fill="#222" dominant-baseline="central" stroke="#222" stroke-width="0.05" transform="translate(216.75 249.90) scale(1 1.3)">16</text>
<line x1="220.75" y1="246.30" x2="220.75" y2="247.50" stroke="#666" stroke-width="0.4"/>
<text x="0" y="0" font-size="2.75" text-anchor="middle" font-weight="normal" fill="#222" dominant-baseline="central" stroke="#222" stroke-width="0.05" transform="translate(220.75 249.90) scale(1 1.3)">17</text>
<line x1="224.75" y1="246.30" x2="224.75" y2="247.50" stroke="#666" stroke-width="0.4"/>
<text x="0" y="0" font-size="2.75" text-anchor="middle" font-weight="normal" fill="#222" dominant-baseline="central" stroke="#222" stroke-width="0.05" transform="translate(224.75 249.90) scale(1 1.3)">18</text>
<line x1="228.75" y1="246.30" x2="228.75" y2="247.50" stroke="#666" stroke-width="0.4"/>
<text x="0" y="0" font-size="2.75" text-anchor="middle" font-weight="normal" fill="#222" dominant-baseline="central" stroke="#222" stroke-width="0.05" transform="translate(228.75 249.90) scale(1 1.3)">19</text>
<line x1="232.75" y1="246.30" x2="232.75" y2="247.50" stroke="#666" stroke-width="0.4"/>
<text x="0" y="0" font-size="2.75" text-anchor="middle" font-weight="normal" fill="#222" dominant-baseline="central" stroke="#222" stroke-width="0.05" transform="translate(232.75 249.90) scale(1 1.3)">20</text>
<line x1="236.75" y1="246.30" x2="236.75" y2="247.50" stroke="#666" stroke-width="0.4"/>
<text x="0" y="0" font-size="2.75" text-anchor="middle" font-weight="normal" fill="#222" dominant-baseline="central" stroke="#222" stroke-width="0.05" transform="translate(236.75 249.90) scale(1 1.3)">21</text>
<line x1="240.75" y1="246.30" x2="240.75" y2="247.50" stroke="#666" stroke-width="0.4"/>
<text x="0" y="0" font-size="2.75" text-anchor="middle" font-weight="normal" fill="#222" dominant-baseline="central" stroke="#222" stroke-width="0.05" transform="translate(240.75 249.90) scale(1 1.3)">22</text>
<line x1="244.75" y1="246.30" x2="244.75" y2="247.50" stroke="#666" stroke-width="0.4"/>
<text x="0" y="0" font-size="2.75" text-anchor="middle" font-weight="normal" fill="#222" dominant-baseline="central" stroke="#222" stroke-width="0.05" transform="translate(244.75 249.90) scale(1 1.3)">23</text>
<line x1="248.75" y1="246.30" x2="248.75" y2="247.50" stroke="#666" stroke-width="0.4"/>
<text x="0" y="0" font-size="2.75" text-anchor="middle" font-weight="normal" fill="#222" dominant-baseline="central" stroke="#222" stroke-width="0.05" transform="translate(248.75 249.90) scale(1 1.3)">24</text>
<line x1="252.75" y1="246.30" x2="252.75" y2="247.50" stroke="#666" stroke-width="0.4"/>
<text x="0" y="0" font-size="2.75" text-anchor="middle" font-weight="normal" fill="#222" dominant-baseline="central" stroke="#222" stroke-width="0.05" transform="translate(252.75 249.90) scale(1 1.3)">25</text>
<text x="0" y="0" font-size="3.5" text-anchor="middle" font-weight="normal" fill="#111" dominant-baseline="central" stroke="#111" stroke-width="0.05" transform="translate(202.65 253.70) scale(1 1.12)">Time(years)</text>
<text x="0" y="0" font-size="5.9" text-anchor="middle" font-weight="normal" fill="#2a2a2a" dominant-baseline="central" stroke="#2a2a2a" stroke-width="0.0" transform="translate(135.80 200.20) rotate(-90) scale(1 1.0)">Survival probability</text>
<text x="0" y="0" font-size="4.0" text-anchor="start" font-weight="normal" fill="#111" dominant-baseline="central" stroke="#111" stroke-width="0.03" transform="translate(154.40 227.20) scale(1 1.22)">p=0.006</text>
<path d="M151.80 167.50 L157.40 171.70 L161.50 178.20 L166.30 179.90 L170.40 183.10 L175.30 184.70 L177.70 188.80 L179.30 193.60 L181.00 199.10 L191.00 199.10 L191.00 208.20 L245.80 208.20" fill="none" stroke="#c46070" stroke-width="0.95" stroke-linejoin="round"/>
<path d="M151.80 167.50 L162.30 169.00 L166.30 171.70 L170.40 174.20 L172.00 175.00 L176.00 179.00 L181.00 179.90 L182.60 182.00 L189.00 182.00 L189.00 190.00 L201.00 190.00 L201.00 203.40 L245.80 203.40" fill="none" stroke="#2b6f68" stroke-width="0.85" stroke-linejoin="round"/>
<line x1="176.20" y1="161.10" x2="180.00" y2="161.10" stroke="#c46070" stroke-width="1.15"/>
<text x="0" y="0" font-size="3.6" text-anchor="start" font-weight="normal" fill="#222" dominant-baseline="central" stroke="#222" stroke-width="0.03" transform="translate(183.00 161.60) scale(1 1.3)">High risk</text>
<line x1="201.00" y1="161.10" x2="204.60" y2="161.10" stroke="#2b6f68" stroke-width="1.15"/>
<text x="0" y="0" font-size="3.6" text-anchor="start" font-weight="normal" fill="#222" dominant-baseline="central" stroke="#222" stroke-width="0.03" transform="translate(208.30 161.60) scale(1 1.3)">Low risk</text>
<text x="0" y="0" font-size="7.6" text-anchor="middle" font-weight="bold" fill="#000" dominant-baseline="central" stroke="#000" stroke-width="0" transform="translate(272.60 157.90) scale(1 1.22)">E</text>
<line x1="287.80" y1="163.60" x2="287.80" y2="246.40" stroke="#b0b0b0" stroke-width="1.1"/>
<line x1="287.80" y1="246.40" x2="397.00" y2="246.40" stroke="#444" stroke-width="0.7"/>
<line x1="286.50" y1="167.60" x2="287.80" y2="167.60" stroke="#888" stroke-width="0.5"/>
<text x="0" y="0" font-size="2.55" text-anchor="end" font-weight="normal" fill="#333" dominant-baseline="central" stroke="#333" stroke-width="0.06" transform="translate(285.30 167.60) scale(1 1.5)">1.00</text>
<line x1="286.50" y1="186.25" x2="287.80" y2="186.25" stroke="#888" stroke-width="0.5"/>
<text x="0" y="0" font-size="2.55" text-anchor="end" font-weight="normal" fill="#333" dominant-baseline="central" stroke="#333" stroke-width="0.06" transform="translate(285.30 186.25) scale(1 1.5)">0.75</text>
<line x1="286.50" y1="204.90" x2="287.80" y2="204.90" stroke="#888" stroke-width="0.5"/>
<text x="0" y="0" font-size="2.55" text-anchor="end" font-weight="normal" fill="#333" dominant-baseline="central" stroke="#333" stroke-width="0.06" transform="translate(285.30 204.90) scale(1 1.5)">0.50</text>
<line x1="286.50" y1="223.55" x2="287.80" y2="223.55" stroke="#888" stroke-width="0.5"/>
<text x="0" y="0" font-size="2.55" text-anchor="end" font-weight="normal" fill="#333" dominant-baseline="central" stroke="#333" stroke-width="0.06" transform="translate(285.30 223.55) scale(1 1.5)">0.25</text>
<line x1="286.50" y1="242.20" x2="287.80" y2="242.20" stroke="#888" stroke-width="0.5"/>
<text x="0" y="0" font-size="2.55" text-anchor="end" font-weight="normal" fill="#333" dominant-baseline="central" stroke="#333" stroke-width="0.06" transform="translate(285.30 242.20) scale(1 1.5)">0</text>
<line x1="292.60" y1="246.40" x2="292.60" y2="247.60" stroke="#666" stroke-width="0.4"/>
<text x="0" y="0" font-size="2.75" text-anchor="middle" font-weight="normal" fill="#222" dominant-baseline="central" stroke="#222" stroke-width="0.05" transform="translate(292.60 250.00) scale(1 1.3)">0</text>
<line x1="296.45" y1="246.40" x2="296.45" y2="247.60" stroke="#666" stroke-width="0.4"/>
<text x="0" y="0" font-size="2.75" text-anchor="middle" font-weight="normal" fill="#222" dominant-baseline="central" stroke="#222" stroke-width="0.05" transform="translate(296.45 250.00) scale(1 1.3)">1</text>
<line x1="300.30" y1="246.40" x2="300.30" y2="247.60" stroke="#666" stroke-width="0.4"/>
<text x="0" y="0" font-size="2.75" text-anchor="middle" font-weight="normal" fill="#222" dominant-baseline="central" stroke="#222" stroke-width="0.05" transform="translate(300.30 250.00) scale(1 1.3)">2</text>
<line x1="304.15" y1="246.40" x2="304.15" y2="247.60" stroke="#666" stroke-width="0.4"/>
<text x="0" y="0" font-size="2.75" text-anchor="middle" font-weight="normal" fill="#222" dominant-baseline="central" stroke="#222" stroke-width="0.05" transform="translate(304.15 250.00) scale(1 1.3)">3</text>
<line x1="308.00" y1="246.40" x2="308.00" y2="247.60" stroke="#666" stroke-width="0.4"/>
<text x="0" y="0" font-size="2.75" text-anchor="middle" font-weight="normal" fill="#222" dominant-baseline="central" stroke="#222" stroke-width="0.05" transform="translate(308.00 250.00) scale(1 1.3)">4</text>
<line x1="311.85" y1="246.40" x2="311.85" y2="247.60" stroke="#666" stroke-width="0.4"/>
<text x="0" y="0" font-size="2.75" text-anchor="middle" font-weight="normal" fill="#222" dominant-baseline="central" stroke="#222" stroke-width="0.05" transform="translate(311.85 250.00) scale(1 1.3)">5</text>
<line x1="315.70" y1="246.40" x2="315.70" y2="247.60" stroke="#666" stroke-width="0.4"/>
<text x="0" y="0" font-size="2.75" text-anchor="middle" font-weight="normal" fill="#222" dominant-baseline="central" stroke="#222" stroke-width="0.05" transform="translate(315.70 250.00) scale(1 1.3)">6</text>
<line x1="319.55" y1="246.40" x2="319.55" y2="247.60" stroke="#666" stroke-width="0.4"/>
<text x="0" y="0" font-size="2.75" text-anchor="middle" font-weight="normal" fill="#222" dominant-baseline="central" stroke="#222" stroke-width="0.05" transform="translate(319.55 250.00) scale(1 1.3)">7</text>
<line x1="323.40" y1="246.40" x2="323.40" y2="247.60" stroke="#666" stroke-width="0.4"/>
<text x="0" y="0" font-size="2.75" text-anchor="middle" font-weight="normal" fill="#222" dominant-baseline="central" stroke="#222" stroke-width="0.05" transform="translate(323.40 250.00) scale(1 1.3)">8</text>
<line x1="327.25" y1="246.40" x2="327.25" y2="247.60" stroke="#666" stroke-width="0.4"/>
<text x="0" y="0" font-size="2.75" text-anchor="middle" font-weight="normal" fill="#222" dominant-baseline="central" stroke="#222" stroke-width="0.05" transform="translate(327.25 250.00) scale(1 1.3)">9</text>
<line x1="331.10" y1="246.40" x2="331.10" y2="247.60" stroke="#666" stroke-width="0.4"/>
<text x="0" y="0" font-size="2.75" text-anchor="middle" font-weight="normal" fill="#222" dominant-baseline="central" stroke="#222" stroke-width="0.05" transform="translate(331.10 250.00) scale(1 1.3)">10</text>
<line x1="334.95" y1="246.40" x2="334.95" y2="247.60" stroke="#666" stroke-width="0.4"/>
<text x="0" y="0" font-size="2.75" text-anchor="middle" font-weight="normal" fill="#222" dominant-baseline="central" stroke="#222" stroke-width="0.05" transform="translate(334.95 250.00) scale(1 1.3)">11</text>
<line x1="338.80" y1="246.40" x2="338.80" y2="247.60" stroke="#666" stroke-width="0.4"/>
<text x="0" y="0" font-size="2.75" text-anchor="middle" font-weight="normal" fill="#222" dominant-baseline="central" stroke="#222" stroke-width="0.05" transform="translate(338.80 250.00) scale(1 1.3)">12</text>
<line x1="342.65" y1="246.40" x2="342.65" y2="247.60" stroke="#666" stroke-width="0.4"/>
<text x="0" y="0" font-size="2.75" text-anchor="middle" font-weight="normal" fill="#222" dominant-baseline="central" stroke="#222" stroke-width="0.05" transform="translate(342.65 250.00) scale(1 1.3)">13</text>
<line x1="346.50" y1="246.40" x2="346.50" y2="247.60" stroke="#666" stroke-width="0.4"/>
<text x="0" y="0" font-size="2.75" text-anchor="middle" font-weight="normal" fill="#222" dominant-baseline="central" stroke="#222" stroke-width="0.05" transform="translate(346.50 250.00) scale(1 1.3)">14</text>
<line x1="350.35" y1="246.40" x2="350.35" y2="247.60" stroke="#666" stroke-width="0.4"/>
<text x="0" y="0" font-size="2.75" text-anchor="middle" font-weight="normal" fill="#222" dominant-baseline="central" stroke="#222" stroke-width="0.05" transform="translate(350.35 250.00) scale(1 1.3)">15</text>
<line x1="354.20" y1="246.40" x2="354.20" y2="247.60" stroke="#666" stroke-width="0.4"/>
<text x="0" y="0" font-size="2.75" text-anchor="middle" font-weight="normal" fill="#222" dominant-baseline="central" stroke="#222" stroke-width="0.05" transform="translate(354.20 250.00) scale(1 1.3)">16</text>
<line x1="358.05" y1="246.40" x2="358.05" y2="247.60" stroke="#666" stroke-width="0.4"/>
<text x="0" y="0" font-size="2.75" text-anchor="middle" font-weight="normal" fill="#222" dominant-baseline="central" stroke="#222" stroke-width="0.05" transform="translate(358.05 250.00) scale(1 1.3)">17</text>
<line x1="361.90" y1="246.40" x2="361.90" y2="247.60" stroke="#666" stroke-width="0.4"/>
<text x="0" y="0" font-size="2.75" text-anchor="middle" font-weight="normal" fill="#222" dominant-baseline="central" stroke="#222" stroke-width="0.05" transform="translate(361.90 250.00) scale(1 1.3)">18</text>
<line x1="365.75" y1="246.40" x2="365.75" y2="247.60" stroke="#666" stroke-width="0.4"/>
<text x="0" y="0" font-size="2.75" text-anchor="middle" font-weight="normal" fill="#222" dominant-baseline="central" stroke="#222" stroke-width="0.05" transform="translate(365.75 250.00) scale(1 1.3)">19</text>
<line x1="369.60" y1="246.40" x2="369.60" y2="247.60" stroke="#666" stroke-width="0.4"/>
<text x="0" y="0" font-size="2.75" text-anchor="middle" font-weight="normal" fill="#222" dominant-baseline="central" stroke="#222" stroke-width="0.05" transform="translate(369.60 250.00) scale(1 1.3)">20</text>
<line x1="373.45" y1="246.40" x2="373.45" y2="247.60" stroke="#666" stroke-width="0.4"/>
<text x="0" y="0" font-size="2.75" text-anchor="middle" font-weight="normal" fill="#222" dominant-baseline="central" stroke="#222" stroke-width="0.05" transform="translate(373.45 250.00) scale(1 1.3)">21</text>
<line x1="377.30" y1="246.40" x2="377.30" y2="247.60" stroke="#666" stroke-width="0.4"/>
<text x="0" y="0" font-size="2.75" text-anchor="middle" font-weight="normal" fill="#222" dominant-baseline="central" stroke="#222" stroke-width="0.05" transform="translate(377.30 250.00) scale(1 1.3)">22</text>
<line x1="381.15" y1="246.40" x2="381.15" y2="247.60" stroke="#666" stroke-width="0.4"/>
<text x="0" y="0" font-size="2.75" text-anchor="middle" font-weight="normal" fill="#222" dominant-baseline="central" stroke="#222" stroke-width="0.05" transform="translate(381.15 250.00) scale(1 1.3)">23</text>
<line x1="385.00" y1="246.40" x2="385.00" y2="247.60" stroke="#666" stroke-width="0.4"/>
<text x="0" y="0" font-size="2.75" text-anchor="middle" font-weight="normal" fill="#222" dominant-baseline="central" stroke="#222" stroke-width="0.05" transform="translate(385.00 250.00) scale(1 1.3)">24</text>
<line x1="388.85" y1="246.40" x2="388.85" y2="247.60" stroke="#666" stroke-width="0.4"/>
<text x="0" y="0" font-size="2.75" text-anchor="middle" font-weight="normal" fill="#222" dominant-baseline="central" stroke="#222" stroke-width="0.05" transform="translate(388.85 250.00) scale(1 1.3)">25</text>
<line x1="392.70" y1="246.40" x2="392.70" y2="247.60" stroke="#666" stroke-width="0.4"/>
<text x="0" y="0" font-size="2.75" text-anchor="middle" font-weight="normal" fill="#222" dominant-baseline="central" stroke="#222" stroke-width="0.05" transform="translate(392.70 250.00) scale(1 1.3)">26</text>
<text x="0" y="0" font-size="3.5" text-anchor="middle" font-weight="normal" fill="#111" dominant-baseline="central" stroke="#111" stroke-width="0.05" transform="translate(342.40 253.80) scale(1 1.12)">Time(years)</text>
<text x="0" y="0" font-size="5.9" text-anchor="middle" font-weight="normal" fill="#2a2a2a" dominant-baseline="central" stroke="#2a2a2a" stroke-width="0.0" transform="translate(275.80 200.10) rotate(-90) scale(1 1.0)">Survival probability</text>
<text x="0" y="0" font-size="4.0" text-anchor="start" font-weight="normal" fill="#111" dominant-baseline="central" stroke="#111" stroke-width="0.03" transform="translate(294.20 227.70) scale(1 1.22)">p&lt;0.001</text>
<path d="M292.10 167.30 L298.90 172.60 L303.00 178.20 L307.00 182.30 L313.50 189.60 L318.40 198.50 L320.00 198.80 L324.40 207.50 L327.90 211.90 L330.50 214.50 L334.00 214.50 L335.70 219.70 L337.50 221.20 L339.20 223.30 L363.20 223.30 L363.20 228.10 L387.40 228.10" fill="none" stroke="#c46070" stroke-width="0.95" stroke-linejoin="round"/>
<path d="M292.10 167.30 L300.50 169.00 L308.60 171.00 L316.00 174.00 L319.00 174.00 L329.00 176.00 L331.00 181.00 L333.00 184.00 L336.00 186.40 L341.00 186.40 L341.00 191.40 L365.00 191.40 L365.00 200.00 L374.30 200.00 L374.30 214.20 L387.40 214.20" fill="none" stroke="#2b6f68" stroke-width="0.85" stroke-linejoin="round"/>
<line x1="321.40" y1="161.10" x2="325.20" y2="161.10" stroke="#c46070" stroke-width="1.15"/>
<text x="0" y="0" font-size="3.6" text-anchor="start" font-weight="normal" fill="#222" dominant-baseline="central" stroke="#222" stroke-width="0.03" transform="translate(328.00 161.60) scale(1 1.3)">High risk</text>
<line x1="347.00" y1="161.10" x2="350.80" y2="161.10" stroke="#2b6f68" stroke-width="1.15"/>
<text x="0" y="0" font-size="3.6" text-anchor="start" font-weight="normal" fill="#222" dominant-baseline="central" stroke="#222" stroke-width="0.03" transform="translate(353.00 161.60) scale(1 1.3)">Low risk</text>
<text x="0" y="0" font-size="7.6" text-anchor="middle" font-weight="bold" fill="#000" dominant-baseline="central" stroke="#000" stroke-width="0" transform="translate(3.60 269.70) scale(1 1.22)">F</text>
<line x1="14.80" y1="276.30" x2="14.80" y2="359.30" stroke="#b0b0b0" stroke-width="1.1"/>
<line x1="14.80" y1="359.30" x2="124.40" y2="359.30" stroke="#444" stroke-width="0.7"/>
<line x1="13.50" y1="280.30" x2="14.80" y2="280.30" stroke="#888" stroke-width="0.5"/>
<text x="0" y="0" font-size="2.55" text-anchor="end" font-weight="normal" fill="#333" dominant-baseline="central" stroke="#333" stroke-width="0.06" transform="translate(12.30 280.30) scale(1 1.5)">1.00</text>
<line x1="13.50" y1="299.10" x2="14.80" y2="299.10" stroke="#888" stroke-width="0.5"/>
<text x="0" y="0" font-size="2.55" text-anchor="end" font-weight="normal" fill="#333" dominant-baseline="central" stroke="#333" stroke-width="0.06" transform="translate(12.30 299.10) scale(1 1.5)">0.75</text>
<line x1="13.50" y1="317.90" x2="14.80" y2="317.90" stroke="#888" stroke-width="0.5"/>
<text x="0" y="0" font-size="2.55" text-anchor="end" font-weight="normal" fill="#333" dominant-baseline="central" stroke="#333" stroke-width="0.06" transform="translate(12.30 317.90) scale(1 1.5)">0.50</text>
<line x1="13.50" y1="336.70" x2="14.80" y2="336.70" stroke="#888" stroke-width="0.5"/>
<text x="0" y="0" font-size="2.55" text-anchor="end" font-weight="normal" fill="#333" dominant-baseline="central" stroke="#333" stroke-width="0.06" transform="translate(12.30 336.70) scale(1 1.5)">0.25</text>
<line x1="13.50" y1="355.50" x2="14.80" y2="355.50" stroke="#888" stroke-width="0.5"/>
<text x="0" y="0" font-size="2.55" text-anchor="end" font-weight="normal" fill="#333" dominant-baseline="central" stroke="#333" stroke-width="0.06" transform="translate(12.30 355.50) scale(1 1.5)">0</text>
<line x1="19.10" y1="359.30" x2="19.10" y2="360.50" stroke="#666" stroke-width="0.4"/>
<text x="0" y="0" font-size="2.75" text-anchor="middle" font-weight="normal" fill="#222" dominant-baseline="central" stroke="#222" stroke-width="0.05" transform="translate(19.10 362.90) scale(1 1.3)">0</text>
<line x1="24.08" y1="359.30" x2="24.08" y2="360.50" stroke="#666" stroke-width="0.4"/>
<text x="0" y="0" font-size="2.75" text-anchor="middle" font-weight="normal" fill="#222" dominant-baseline="central" stroke="#222" stroke-width="0.05" transform="translate(24.08 362.90) scale(1 1.3)">1</text>
<line x1="29.06" y1="359.30" x2="29.06" y2="360.50" stroke="#666" stroke-width="0.4"/>
<text x="0" y="0" font-size="2.75" text-anchor="middle" font-weight="normal" fill="#222" dominant-baseline="central" stroke="#222" stroke-width="0.05" transform="translate(29.06 362.90) scale(1 1.3)">2</text>
<line x1="34.04" y1="359.30" x2="34.04" y2="360.50" stroke="#666" stroke-width="0.4"/>
<text x="0" y="0" font-size="2.75" text-anchor="middle" font-weight="normal" fill="#222" dominant-baseline="central" stroke="#222" stroke-width="0.05" transform="translate(34.04 362.90) scale(1 1.3)">3</text>
<line x1="39.02" y1="359.30" x2="39.02" y2="360.50" stroke="#666" stroke-width="0.4"/>
<text x="0" y="0" font-size="2.75" text-anchor="middle" font-weight="normal" fill="#222" dominant-baseline="central" stroke="#222" stroke-width="0.05" transform="translate(39.02 362.90) scale(1 1.3)">4</text>
<line x1="44.00" y1="359.30" x2="44.00" y2="360.50" stroke="#666" stroke-width="0.4"/>
<text x="0" y="0" font-size="2.75" text-anchor="middle" font-weight="normal" fill="#222" dominant-baseline="central" stroke="#222" stroke-width="0.05" transform="translate(44.00 362.90) scale(1 1.3)">5</text>
<line x1="48.98" y1="359.30" x2="48.98" y2="360.50" stroke="#666" stroke-width="0.4"/>
<text x="0" y="0" font-size="2.75" text-anchor="middle" font-weight="normal" fill="#222" dominant-baseline="central" stroke="#222" stroke-width="0.05" transform="translate(48.98 362.90) scale(1 1.3)">6</text>
<line x1="53.96" y1="359.30" x2="53.96" y2="360.50" stroke="#666" stroke-width="0.4"/>
<text x="0" y="0" font-size="2.75" text-anchor="middle" font-weight="normal" fill="#222" dominant-baseline="central" stroke="#222" stroke-width="0.05" transform="translate(53.96 362.90) scale(1 1.3)">7</text>
<line x1="58.94" y1="359.30" x2="58.94" y2="360.50" stroke="#666" stroke-width="0.4"/>
<text x="0" y="0" font-size="2.75" text-anchor="middle" font-weight="normal" fill="#222" dominant-baseline="central" stroke="#222" stroke-width="0.05" transform="translate(58.94 362.90) scale(1 1.3)">8</text>
<line x1="63.92" y1="359.30" x2="63.92" y2="360.50" stroke="#666" stroke-width="0.4"/>
<text x="0" y="0" font-size="2.75" text-anchor="middle" font-weight="normal" fill="#222" dominant-baseline="central" stroke="#222" stroke-width="0.05" transform="translate(63.92 362.90) scale(1 1.3)">9</text>
<line x1="68.90" y1="359.30" x2="68.90" y2="360.50" stroke="#666" stroke-width="0.4"/>
<text x="0" y="0" font-size="2.75" text-anchor="middle" font-weight="normal" fill="#222" dominant-baseline="central" stroke="#222" stroke-width="0.05" transform="translate(68.90 362.90) scale(1 1.3)">10</text>
<line x1="73.88" y1="359.30" x2="73.88" y2="360.50" stroke="#666" stroke-width="0.4"/>
<text x="0" y="0" font-size="2.75" text-anchor="middle" font-weight="normal" fill="#222" dominant-baseline="central" stroke="#222" stroke-width="0.05" transform="translate(73.88 362.90) scale(1 1.3)">11</text>
<line x1="78.86" y1="359.30" x2="78.86" y2="360.50" stroke="#666" stroke-width="0.4"/>
<text x="0" y="0" font-size="2.75" text-anchor="middle" font-weight="normal" fill="#222" dominant-baseline="central" stroke="#222" stroke-width="0.05" transform="translate(78.86 362.90) scale(1 1.3)">12</text>
<line x1="83.84" y1="359.30" x2="83.84" y2="360.50" stroke="#666" stroke-width="0.4"/>
<text x="0" y="0" font-size="2.75" text-anchor="middle" font-weight="normal" fill="#222" dominant-baseline="central" stroke="#222" stroke-width="0.05" transform="translate(83.84 362.90) scale(1 1.3)">13</text>
<line x1="88.82" y1="359.30" x2="88.82" y2="360.50" stroke="#666" stroke-width="0.4"/>
<text x="0" y="0" font-size="2.75" text-anchor="middle" font-weight="normal" fill="#222" dominant-baseline="central" stroke="#222" stroke-width="0.05" transform="translate(88.82 362.90) scale(1 1.3)">14</text>
<line x1="93.80" y1="359.30" x2="93.80" y2="360.50" stroke="#666" stroke-width="0.4"/>
<text x="0" y="0" font-size="2.75" text-anchor="middle" font-weight="normal" fill="#222" dominant-baseline="central" stroke="#222" stroke-width="0.05" transform="translate(93.80 362.90) scale(1 1.3)">15</text>
<line x1="98.78" y1="359.30" x2="98.78" y2="360.50" stroke="#666" stroke-width="0.4"/>
<text x="0" y="0" font-size="2.75" text-anchor="middle" font-weight="normal" fill="#222" dominant-baseline="central" stroke="#222" stroke-width="0.05" transform="translate(98.78 362.90) scale(1 1.3)">16</text>
<line x1="103.76" y1="359.30" x2="103.76" y2="360.50" stroke="#666" stroke-width="0.4"/>
<text x="0" y="0" font-size="2.75" text-anchor="middle" font-weight="normal" fill="#222" dominant-baseline="central" stroke="#222" stroke-width="0.05" transform="translate(103.76 362.90) scale(1 1.3)">17</text>
<line x1="108.74" y1="359.30" x2="108.74" y2="360.50" stroke="#666" stroke-width="0.4"/>
<text x="0" y="0" font-size="2.75" text-anchor="middle" font-weight="normal" fill="#222" dominant-baseline="central" stroke="#222" stroke-width="0.05" transform="translate(108.74 362.90) scale(1 1.3)">18</text>
<line x1="113.72" y1="359.30" x2="113.72" y2="360.50" stroke="#666" stroke-width="0.4"/>
<text x="0" y="0" font-size="2.75" text-anchor="middle" font-weight="normal" fill="#222" dominant-baseline="central" stroke="#222" stroke-width="0.05" transform="translate(113.72 362.90) scale(1 1.3)">19</text>
<line x1="118.70" y1="359.30" x2="118.70" y2="360.50" stroke="#666" stroke-width="0.4"/>
<text x="0" y="0" font-size="2.75" text-anchor="middle" font-weight="normal" fill="#222" dominant-baseline="central" stroke="#222" stroke-width="0.05" transform="translate(118.70 362.90) scale(1 1.3)">20</text>
<text x="0" y="0" font-size="3.5" text-anchor="middle" font-weight="normal" fill="#111" dominant-baseline="central" stroke="#111" stroke-width="0.05" transform="translate(69.60 366.70) scale(1 1.12)">Time(years)</text>
<text x="0" y="0" font-size="5.9" text-anchor="middle" font-weight="normal" fill="#2a2a2a" dominant-baseline="central" stroke="#2a2a2a" stroke-width="0.0" transform="translate(2.80 313.10) rotate(-90) scale(1 1.0)">Survival probability</text>
<text x="0" y="0" font-size="4.0" text-anchor="start" font-weight="normal" fill="#111" dominant-baseline="central" stroke="#111" stroke-width="0.03" transform="translate(21.40 340.50) scale(1 1.22)">p=0.008</text>
<path d="M19.10 280.30 L24.00 281.00 L29.70 284.90 L46.00 294.30 L58.00 300.30 L66.60 302.60 L72.70 303.80 L76.20 305.20 L78.00 310.50 L83.20 311.40 L88.50 312.20 L89.90 317.10 L108.60 317.10" fill="none" stroke="#c46070" stroke-width="0.95" stroke-linejoin="round"/>
<path d="M19.10 280.30 L23.00 280.60 L27.00 282.20 L40.50 287.60 L50.00 290.60 L57.00 293.00 L62.20 293.00 L69.20 296.50 L71.90 299.10 L92.90 299.10 L92.90 313.10 L101.60 313.10" fill="none" stroke="#2b6f68" stroke-width="0.85" stroke-linejoin="round"/>
<line x1="51.80" y1="273.90" x2="55.40" y2="273.90" stroke="#c46070" stroke-width="1.15"/>
<text x="0" y="0" font-size="3.6" text-anchor="start" font-weight="normal" fill="#222" dominant-baseline="central" stroke="#222" stroke-width="0.03" transform="translate(57.90 274.40) scale(1 1.3)">High risk</text>
<line x1="76.30" y1="273.90" x2="80.40" y2="273.90" stroke="#2b6f68" stroke-width="1.15"/>
<text x="0" y="0" font-size="3.6" text-anchor="start" font-weight="normal" fill="#222" dominant-baseline="central" stroke="#222" stroke-width="0.03" transform="translate(82.90 274.40) scale(1 1.3)">Low risk</text>
<text x="0" y="0" font-size="7.6" text-anchor="middle" font-weight="bold" fill="#000" dominant-baseline="central" stroke="#000" stroke-width="0" transform="translate(138.00 269.60) scale(1 1.22)">G</text>
<line x1="150.60" y1="279.50" x2="150.60" y2="358.40" stroke="#b0b0b0" stroke-width="1.1"/>
<line x1="150.60" y1="358.40" x2="262.60" y2="358.40" stroke="#444" stroke-width="0.7"/>
<line x1="149.30" y1="283.50" x2="150.60" y2="283.50" stroke="#888" stroke-width="0.5"/>
<text x="0" y="0" font-size="2.55" text-anchor="end" font-weight="normal" fill="#333" dominant-baseline="central" stroke="#333" stroke-width="0.06" transform="translate(148.10 283.50) scale(1 1.5)">1.00</text>
<line x1="149.30" y1="301.40" x2="150.60" y2="301.40" stroke="#888" stroke-width="0.5"/>
<text x="0" y="0" font-size="2.55" text-anchor="end" font-weight="normal" fill="#333" dominant-baseline="central" stroke="#333" stroke-width="0.06" transform="translate(148.10 301.40) scale(1 1.5)">0.75</text>
<line x1="149.30" y1="319.30" x2="150.60" y2="319.30" stroke="#888" stroke-width="0.5"/>
<text x="0" y="0" font-size="2.55" text-anchor="end" font-weight="normal" fill="#333" dominant-baseline="central" stroke="#333" stroke-width="0.06" transform="translate(148.10 319.30) scale(1 1.5)">0.50</text>
<line x1="149.30" y1="337.20" x2="150.60" y2="337.20" stroke="#888" stroke-width="0.5"/>
<text x="0" y="0" font-size="2.55" text-anchor="end" font-weight="normal" fill="#333" dominant-baseline="central" stroke="#333" stroke-width="0.06" transform="translate(148.10 337.20) scale(1 1.5)">0.25</text>
<line x1="149.30" y1="355.10" x2="150.60" y2="355.10" stroke="#888" stroke-width="0.5"/>
<text x="0" y="0" font-size="2.55" text-anchor="end" font-weight="normal" fill="#333" dominant-baseline="central" stroke="#333" stroke-width="0.06" transform="translate(148.10 355.10) scale(1 1.5)">0</text>
<line x1="155.70" y1="358.40" x2="155.70" y2="359.60" stroke="#666" stroke-width="0.4"/>
<text x="0" y="0" font-size="3.0" text-anchor="middle" font-weight="normal" fill="#222" dominant-baseline="central" stroke="#222" stroke-width="0.05" transform="translate(155.70 362.00) scale(1 1.3)">0</text>
<line x1="159.84" y1="358.40" x2="159.84" y2="359.60" stroke="#666" stroke-width="0.4"/>
<text x="0" y="0" font-size="3.0" text-anchor="middle" font-weight="normal" fill="#222" dominant-baseline="central" stroke="#222" stroke-width="0.05" transform="translate(159.84 362.00) scale(1 1.3)">1</text>
<line x1="163.98" y1="358.40" x2="163.98" y2="359.60" stroke="#666" stroke-width="0.4"/>
<text x="0" y="0" font-size="3.0" text-anchor="middle" font-weight="normal" fill="#222" dominant-baseline="central" stroke="#222" stroke-width="0.05" transform="translate(163.98 362.00) scale(1 1.3)">2</text>
<line x1="168.12" y1="358.40" x2="168.12" y2="359.60" stroke="#666" stroke-width="0.4"/>
<text x="0" y="0" font-size="3.0" text-anchor="middle" font-weight="normal" fill="#222" dominant-baseline="central" stroke="#222" stroke-width="0.05" transform="translate(168.12 362.00) scale(1 1.3)">3</text>
<line x1="172.26" y1="358.40" x2="172.26" y2="359.60" stroke="#666" stroke-width="0.4"/>
<text x="0" y="0" font-size="3.0" text-anchor="middle" font-weight="normal" fill="#222" dominant-baseline="central" stroke="#222" stroke-width="0.05" transform="translate(172.26 362.00) scale(1 1.3)">4</text>
<line x1="176.40" y1="358.40" x2="176.40" y2="359.60" stroke="#666" stroke-width="0.4"/>
<text x="0" y="0" font-size="3.0" text-anchor="middle" font-weight="normal" fill="#222" dominant-baseline="central" stroke="#222" stroke-width="0.05" transform="translate(176.40 362.00) scale(1 1.3)">5</text>
<line x1="180.54" y1="358.40" x2="180.54" y2="359.60" stroke="#666" stroke-width="0.4"/>
<text x="0" y="0" font-size="3.0" text-anchor="middle" font-weight="normal" fill="#222" dominant-baseline="central" stroke="#222" stroke-width="0.05" transform="translate(180.54 362.00) scale(1 1.3)">6</text>
<line x1="184.68" y1="358.40" x2="184.68" y2="359.60" stroke="#666" stroke-width="0.4"/>
<text x="0" y="0" font-size="3.0" text-anchor="middle" font-weight="normal" fill="#222" dominant-baseline="central" stroke="#222" stroke-width="0.05" transform="translate(184.68 362.00) scale(1 1.3)">7</text>
<line x1="188.82" y1="358.40" x2="188.82" y2="359.60" stroke="#666" stroke-width="0.4"/>
<text x="0" y="0" font-size="3.0" text-anchor="middle" font-weight="normal" fill="#222" dominant-baseline="central" stroke="#222" stroke-width="0.05" transform="translate(188.82 362.00) scale(1 1.3)">8</text>
<line x1="192.96" y1="358.40" x2="192.96" y2="359.60" stroke="#666" stroke-width="0.4"/>
<text x="0" y="0" font-size="3.0" text-anchor="middle" font-weight="normal" fill="#222" dominant-baseline="central" stroke="#222" stroke-width="0.05" transform="translate(192.96 362.00) scale(1 1.3)">9</text>
<line x1="197.10" y1="358.40" x2="197.10" y2="359.60" stroke="#666" stroke-width="0.4"/>
<text x="0" y="0" font-size="3.0" text-anchor="middle" font-weight="normal" fill="#222" dominant-baseline="central" stroke="#222" stroke-width="0.05" transform="translate(197.10 362.00) scale(1 1.3)">10</text>
<line x1="201.24" y1="358.40" x2="201.24" y2="359.60" stroke="#666" stroke-width="0.4"/>
<text x="0" y="0" font-size="3.0" text-anchor="middle" font-weight="normal" fill="#222" dominant-baseline="central" stroke="#222" stroke-width="0.05" transform="translate(201.24 362.00) scale(1 1.3)">11</text>
<line x1="205.38" y1="358.40" x2="205.38" y2="359.60" stroke="#666" stroke-width="0.4"/>
<text x="0" y="0" font-size="3.0" text-anchor="middle" font-weight="normal" fill="#222" dominant-baseline="central" stroke="#222" stroke-width="0.05" transform="translate(205.38 362.00) scale(1 1.3)">12</text>
<line x1="209.52" y1="358.40" x2="209.52" y2="359.60" stroke="#666" stroke-width="0.4"/>
<text x="0" y="0" font-size="3.0" text-anchor="middle" font-weight="normal" fill="#222" dominant-baseline="central" stroke="#222" stroke-width="0.05" transform="translate(209.52 362.00) scale(1 1.3)">13</text>
<line x1="213.66" y1="358.40" x2="213.66" y2="359.60" stroke="#666" stroke-width="0.4"/>
<text x="0" y="0" font-size="3.0" text-anchor="middle" font-weight="normal" fill="#222" dominant-baseline="central" stroke="#222" stroke-width="0.05" transform="translate(213.66 362.00) scale(1 1.3)">14</text>
<line x1="217.80" y1="358.40" x2="217.80" y2="359.60" stroke="#666" stroke-width="0.4"/>
<text x="0" y="0" font-size="3.0" text-anchor="middle" font-weight="normal" fill="#222" dominant-baseline="central" stroke="#222" stroke-width="0.05" transform="translate(217.80 362.00) scale(1 1.3)">15</text>
<line x1="221.94" y1="358.40" x2="221.94" y2="359.60" stroke="#666" stroke-width="0.4"/>
<text x="0" y="0" font-size="3.0" text-anchor="middle" font-weight="normal" fill="#222" dominant-baseline="central" stroke="#222" stroke-width="0.05" transform="translate(221.94 362.00) scale(1 1.3)">16</text>
<line x1="226.08" y1="358.40" x2="226.08" y2="359.60" stroke="#666" stroke-width="0.4"/>
<text x="0" y="0" font-size="3.0" text-anchor="middle" font-weight="normal" fill="#222" dominant-baseline="central" stroke="#222" stroke-width="0.05" transform="translate(226.08 362.00) scale(1 1.3)">17</text>
<line x1="230.22" y1="358.40" x2="230.22" y2="359.60" stroke="#666" stroke-width="0.4"/>
<text x="0" y="0" font-size="3.0" text-anchor="middle" font-weight="normal" fill="#222" dominant-baseline="central" stroke="#222" stroke-width="0.05" transform="translate(230.22 362.00) scale(1 1.3)">18</text>
<line x1="234.36" y1="358.40" x2="234.36" y2="359.60" stroke="#666" stroke-width="0.4"/>
<text x="0" y="0" font-size="3.0" text-anchor="middle" font-weight="normal" fill="#222" dominant-baseline="central" stroke="#222" stroke-width="0.05" transform="translate(234.36 362.00) scale(1 1.3)">19</text>
<line x1="238.50" y1="358.40" x2="238.50" y2="359.60" stroke="#666" stroke-width="0.4"/>
<text x="0" y="0" font-size="3.0" text-anchor="middle" font-weight="normal" fill="#222" dominant-baseline="central" stroke="#222" stroke-width="0.05" transform="translate(238.50 362.00) scale(1 1.3)">20</text>
<line x1="242.64" y1="358.40" x2="242.64" y2="359.60" stroke="#666" stroke-width="0.4"/>
<text x="0" y="0" font-size="3.0" text-anchor="middle" font-weight="normal" fill="#222" dominant-baseline="central" stroke="#222" stroke-width="0.05" transform="translate(242.64 362.00) scale(1 1.3)">21</text>
<line x1="246.78" y1="358.40" x2="246.78" y2="359.60" stroke="#666" stroke-width="0.4"/>
<text x="0" y="0" font-size="3.0" text-anchor="middle" font-weight="normal" fill="#222" dominant-baseline="central" stroke="#222" stroke-width="0.05" transform="translate(246.78 362.00) scale(1 1.3)">22</text>
<line x1="250.92" y1="358.40" x2="250.92" y2="359.60" stroke="#666" stroke-width="0.4"/>
<text x="0" y="0" font-size="3.0" text-anchor="middle" font-weight="normal" fill="#222" dominant-baseline="central" stroke="#222" stroke-width="0.05" transform="translate(250.92 362.00) scale(1 1.3)">23</text>
<line x1="255.06" y1="358.40" x2="255.06" y2="359.60" stroke="#666" stroke-width="0.4"/>
<text x="0" y="0" font-size="3.0" text-anchor="middle" font-weight="normal" fill="#222" dominant-baseline="central" stroke="#222" stroke-width="0.05" transform="translate(255.06 362.00) scale(1 1.3)">24</text>
<line x1="259.20" y1="358.40" x2="259.20" y2="359.60" stroke="#666" stroke-width="0.4"/>
<text x="0" y="0" font-size="3.0" text-anchor="middle" font-weight="normal" fill="#222" dominant-baseline="central" stroke="#222" stroke-width="0.05" transform="translate(259.20 362.00) scale(1 1.3)">25</text>
<text x="0" y="0" font-size="4.0" text-anchor="middle" font-weight="normal" fill="#111" dominant-baseline="central" stroke="#111" stroke-width="0.05" transform="translate(207.40 366.70) scale(1 1.12)">Time(years)</text>
<text x="0" y="0" font-size="5.4" text-anchor="middle" font-weight="normal" fill="#2a2a2a" dominant-baseline="central" stroke="#2a2a2a" stroke-width="0.0" transform="translate(139.10 314.50) rotate(-90) scale(1 1.0)">Survival probability</text>
<text x="0" y="0" font-size="4.5" text-anchor="start" font-weight="normal" fill="#111" dominant-baseline="central" stroke="#111" stroke-width="0.03" transform="translate(158.10 340.40) scale(1 1.3)">p&lt;0.001</text>
<path d="M155.80 283.50 L163.10 284.30 L168.80 291.60 L173.60 294.90 L178.50 300.50 L182.60 305.40 L185.00 311.90 L188.00 319.00 L192.00 320.00 L195.00 323.00 L198.00 324.00 L201.00 329.00 L203.60 332.00 L227.60 332.00 L227.60 339.40 L251.40 339.40" fill="none" stroke="#dc2434" stroke-width="1.25" stroke-linejoin="round"/>
<path d="M155.80 283.50 L172.00 285.10 L178.50 287.20 L185.00 287.40 L193.60 287.40 L193.60 292.00 L196.00 292.00 L196.00 295.60 L199.00 295.60 L199.00 299.40 L205.00 299.40 L205.00 306.40 L229.00 306.40 L229.00 318.50 L251.40 318.50" fill="none" stroke="#2a34d0" stroke-width="1.25" stroke-linejoin="round"/>
<text x="0" y="0" font-size="4.1" text-anchor="start" font-weight="normal" fill="#222" dominant-baseline="central" stroke="#222" stroke-width="0.03" transform="translate(195.20 276.30) scale(1 1.15)">Risk</text>
<line x1="206.20" y1="276.60" x2="210.20" y2="276.60" stroke="#dc2434" stroke-width="1.3"/>
<text x="0" y="0" font-size="4.1" text-anchor="start" font-weight="normal" fill="#222" dominant-baseline="central" stroke="#222" stroke-width="0.03" transform="translate(213.90 276.30) scale(1 1.15)">high</text>
<line x1="225.50" y1="276.60" x2="229.90" y2="276.60" stroke="#2a34d0" stroke-width="1.3"/>
<text x="0" y="0" font-size="4.1" text-anchor="start" font-weight="normal" fill="#222" dominant-baseline="central" stroke="#222" stroke-width="0.03" transform="translate(232.60 276.30) scale(1 1.15)">low</text>
<text x="0" y="0" font-size="3.95" text-anchor="start" font-weight="normal" fill="#222" dominant-baseline="central" stroke="#222" stroke-width="0.03" transform="translate(151.00 271.50) scale(1 1.12)">Patients with Stage I~II</text>
<text x="0" y="0" font-size="7.6" text-anchor="middle" font-weight="bold" fill="#000" dominant-baseline="central" stroke="#000" stroke-width="0" transform="translate(273.40 269.70) scale(1 1.22)">H</text>
<line x1="287.90" y1="279.50" x2="287.90" y2="358.50" stroke="#b0b0b0" stroke-width="1.1"/>
<line x1="287.90" y1="358.50" x2="399.00" y2="358.50" stroke="#444" stroke-width="0.7"/>
<line x1="286.60" y1="283.50" x2="287.90" y2="283.50" stroke="#888" stroke-width="0.5"/>
<text x="0" y="0" font-size="2.55" text-anchor="end" font-weight="normal" fill="#333" dominant-baseline="central" stroke="#333" stroke-width="0.06" transform="translate(285.40 283.50) scale(1 1.5)">1.00</text>
<line x1="286.60" y1="301.40" x2="287.90" y2="301.40" stroke="#888" stroke-width="0.5"/>
<text x="0" y="0" font-size="2.55" text-anchor="end" font-weight="normal" fill="#333" dominant-baseline="central" stroke="#333" stroke-width="0.06" transform="translate(285.40 301.40) scale(1 1.5)">0.75</text>
<line x1="286.60" y1="319.30" x2="287.90" y2="319.30" stroke="#888" stroke-width="0.5"/>
<text x="0" y="0" font-size="2.55" text-anchor="end" font-weight="normal" fill="#333" dominant-baseline="central" stroke="#333" stroke-width="0.06" transform="translate(285.40 319.30) scale(1 1.5)">0.50</text>
<line x1="286.60" y1="337.20" x2="287.90" y2="337.20" stroke="#888" stroke-width="0.5"/>
<text x="0" y="0" font-size="2.55" text-anchor="end" font-weight="normal" fill="#333" dominant-baseline="central" stroke="#333" stroke-width="0.06" transform="translate(285.40 337.20) scale(1 1.5)">0.25</text>
<line x1="286.60" y1="355.10" x2="287.90" y2="355.10" stroke="#888" stroke-width="0.5"/>
<text x="0" y="0" font-size="2.55" text-anchor="end" font-weight="normal" fill="#333" dominant-baseline="central" stroke="#333" stroke-width="0.06" transform="translate(285.40 355.10) scale(1 1.5)">0</text>
<line x1="294.50" y1="358.50" x2="294.50" y2="359.70" stroke="#666" stroke-width="0.4"/>
<text x="0" y="0" font-size="3.0" text-anchor="middle" font-weight="normal" fill="#222" dominant-baseline="central" stroke="#222" stroke-width="0.05" transform="translate(294.50 362.10) scale(1 1.3)">0</text>
<line x1="299.45" y1="358.50" x2="299.45" y2="359.70" stroke="#666" stroke-width="0.4"/>
<text x="0" y="0" font-size="3.0" text-anchor="middle" font-weight="normal" fill="#222" dominant-baseline="central" stroke="#222" stroke-width="0.05" transform="translate(299.45 362.10) scale(1 1.3)">1</text>
<line x1="304.40" y1="358.50" x2="304.40" y2="359.70" stroke="#666" stroke-width="0.4"/>
<text x="0" y="0" font-size="3.0" text-anchor="middle" font-weight="normal" fill="#222" dominant-baseline="central" stroke="#222" stroke-width="0.05" transform="translate(304.40 362.10) scale(1 1.3)">2</text>
<line x1="309.35" y1="358.50" x2="309.35" y2="359.70" stroke="#666" stroke-width="0.4"/>
<text x="0" y="0" font-size="3.0" text-anchor="middle" font-weight="normal" fill="#222" dominant-baseline="central" stroke="#222" stroke-width="0.05" transform="translate(309.35 362.10) scale(1 1.3)">3</text>
<line x1="314.30" y1="358.50" x2="314.30" y2="359.70" stroke="#666" stroke-width="0.4"/>
<text x="0" y="0" font-size="3.0" text-anchor="middle" font-weight="normal" fill="#222" dominant-baseline="central" stroke="#222" stroke-width="0.05" transform="translate(314.30 362.10) scale(1 1.3)">4</text>
<line x1="319.25" y1="358.50" x2="319.25" y2="359.70" stroke="#666" stroke-width="0.4"/>
<text x="0" y="0" font-size="3.0" text-anchor="middle" font-weight="normal" fill="#222" dominant-baseline="central" stroke="#222" stroke-width="0.05" transform="translate(319.25 362.10) scale(1 1.3)">5</text>
<line x1="324.20" y1="358.50" x2="324.20" y2="359.70" stroke="#666" stroke-width="0.4"/>
<text x="0" y="0" font-size="3.0" text-anchor="middle" font-weight="normal" fill="#222" dominant-baseline="central" stroke="#222" stroke-width="0.05" transform="translate(324.20 362.10) scale(1 1.3)">6</text>
<line x1="329.15" y1="358.50" x2="329.15" y2="359.70" stroke="#666" stroke-width="0.4"/>
<text x="0" y="0" font-size="3.0" text-anchor="middle" font-weight="normal" fill="#222" dominant-baseline="central" stroke="#222" stroke-width="0.05" transform="translate(329.15 362.10) scale(1 1.3)">7</text>
<line x1="334.10" y1="358.50" x2="334.10" y2="359.70" stroke="#666" stroke-width="0.4"/>
<text x="0" y="0" font-size="3.0" text-anchor="middle" font-weight="normal" fill="#222" dominant-baseline="central" stroke="#222" stroke-width="0.05" transform="translate(334.10 362.10) scale(1 1.3)">8</text>
<line x1="339.05" y1="358.50" x2="339.05" y2="359.70" stroke="#666" stroke-width="0.4"/>
<text x="0" y="0" font-size="3.0" text-anchor="middle" font-weight="normal" fill="#222" dominant-baseline="central" stroke="#222" stroke-width="0.05" transform="translate(339.05 362.10) scale(1 1.3)">9</text>
<line x1="344.00" y1="358.50" x2="344.00" y2="359.70" stroke="#666" stroke-width="0.4"/>
<text x="0" y="0" font-size="3.0" text-anchor="middle" font-weight="normal" fill="#222" dominant-baseline="central" stroke="#222" stroke-width="0.05" transform="translate(344.00 362.10) scale(1 1.3)">10</text>
<line x1="348.95" y1="358.50" x2="348.95" y2="359.70" stroke="#666" stroke-width="0.4"/>
<text x="0" y="0" font-size="3.0" text-anchor="middle" font-weight="normal" fill="#222" dominant-baseline="central" stroke="#222" stroke-width="0.05" transform="translate(348.95 362.10) scale(1 1.3)">11</text>
<line x1="353.90" y1="358.50" x2="353.90" y2="359.70" stroke="#666" stroke-width="0.4"/>
<text x="0" y="0" font-size="3.0" text-anchor="middle" font-weight="normal" fill="#222" dominant-baseline="central" stroke="#222" stroke-width="0.05" transform="translate(353.90 362.10) scale(1 1.3)">12</text>
<line x1="358.85" y1="358.50" x2="358.85" y2="359.70" stroke="#666" stroke-width="0.4"/>
<text x="0" y="0" font-size="3.0" text-anchor="middle" font-weight="normal" fill="#222" dominant-baseline="central" stroke="#222" stroke-width="0.05" transform="translate(358.85 362.10) scale(1 1.3)">13</text>
<line x1="363.80" y1="358.50" x2="363.80" y2="359.70" stroke="#666" stroke-width="0.4"/>
<text x="0" y="0" font-size="3.0" text-anchor="middle" font-weight="normal" fill="#222" dominant-baseline="central" stroke="#222" stroke-width="0.05" transform="translate(363.80 362.10) scale(1 1.3)">14</text>
<line x1="368.75" y1="358.50" x2="368.75" y2="359.70" stroke="#666" stroke-width="0.4"/>
<text x="0" y="0" font-size="3.0" text-anchor="middle" font-weight="normal" fill="#222" dominant-baseline="central" stroke="#222" stroke-width="0.05" transform="translate(368.75 362.10) scale(1 1.3)">15</text>
<line x1="373.70" y1="358.50" x2="373.70" y2="359.70" stroke="#666" stroke-width="0.4"/>
<text x="0" y="0" font-size="3.0" text-anchor="middle" font-weight="normal" fill="#222" dominant-baseline="central" stroke="#222" stroke-width="0.05" transform="translate(373.70 362.10) scale(1 1.3)">16</text>
<line x1="378.65" y1="358.50" x2="378.65" y2="359.70" stroke="#666" stroke-width="0.4"/>
<text x="0" y="0" font-size="3.0" text-anchor="middle" font-weight="normal" fill="#222" dominant-baseline="central" stroke="#222" stroke-width="0.05" transform="translate(378.65 362.10) scale(1 1.3)">17</text>
<line x1="383.60" y1="358.50" x2="383.60" y2="359.70" stroke="#666" stroke-width="0.4"/>
<text x="0" y="0" font-size="3.0" text-anchor="middle" font-weight="normal" fill="#222" dominant-baseline="central" stroke="#222" stroke-width="0.05" transform="translate(383.60 362.10) scale(1 1.3)">18</text>
<line x1="388.55" y1="358.50" x2="388.55" y2="359.70" stroke="#666" stroke-width="0.4"/>
<text x="0" y="0" font-size="3.0" text-anchor="middle" font-weight="normal" fill="#222" dominant-baseline="central" stroke="#222" stroke-width="0.05" transform="translate(388.55 362.10) scale(1 1.3)">19</text>
<line x1="393.50" y1="358.50" x2="393.50" y2="359.70" stroke="#666" stroke-width="0.4"/>
<text x="0" y="0" font-size="3.0" text-anchor="middle" font-weight="normal" fill="#222" dominant-baseline="central" stroke="#222" stroke-width="0.05" transform="translate(393.50 362.10) scale(1 1.3)">20</text>
<text x="0" y="0" font-size="4.0" text-anchor="middle" font-weight="normal" fill="#111" dominant-baseline="central" stroke="#111" stroke-width="0.05" transform="translate(344.25 366.80) scale(1 1.12)">Time(years)</text>
<text x="0" y="0" font-size="5.4" text-anchor="middle" font-weight="normal" fill="#2a2a2a" dominant-baseline="central" stroke="#2a2a2a" stroke-width="0.0" transform="translate(276.40 314.50) rotate(-90) scale(1 1.0)">Survival probability</text>
<text x="0" y="0" font-size="4.5" text-anchor="start" font-weight="normal" fill="#111" dominant-baseline="central" stroke="#111" stroke-width="0.03" transform="translate(294.80 340.30) scale(1 1.3)">p&lt;0.001</text>
<path d="M292.00 283.50 L296.50 288.40 L301.30 294.00 L304.60 300.50 L308.00 305.70 L311.80 307.60 L314.60 311.40 L318.40 316.10 L321.20 318.90 L324.00 322.70 L326.90 325.60 L329.70 326.50 L334.50 328.00 L340.20 329.30 L341.10 333.50 L347.50 333.50 L347.50 344.30 L351.70 344.30" fill="none" stroke="#dc2434" stroke-width="1.25" stroke-linejoin="round"/>
<path d="M292.00 283.50 L295.70 284.00 L299.70 284.30 L301.30 286.70 L305.40 288.40 L307.00 290.80 L311.00 291.60 L312.70 294.90 L320.30 295.00 L320.30 297.20 L328.80 297.20 L328.80 301.00 L340.00 301.00 L340.00 310.40 L391.50 310.40" fill="none" stroke="#2a34d0" stroke-width="1.25" stroke-linejoin="round"/>
<text x="0" y="0" font-size="4.1" text-anchor="start" font-weight="normal" fill="#222" dominant-baseline="central" stroke="#222" stroke-width="0.03" transform="translate(334.50 276.30) scale(1 1.15)">Risk</text>
<line x1="346.40" y1="276.60" x2="350.20" y2="276.60" stroke="#dc2434" stroke-width="1.3"/>
<text x="0" y="0" font-size="4.1" text-anchor="start" font-weight="normal" fill="#222" dominant-baseline="central" stroke="#222" stroke-width="0.03" transform="translate(353.20 276.30) scale(1 1.15)">high</text>
<line x1="365.20" y1="276.60" x2="369.80" y2="276.60" stroke="#2a34d0" stroke-width="1.3"/>
<text x="0" y="0" font-size="4.1" text-anchor="start" font-weight="normal" fill="#222" dominant-baseline="central" stroke="#222" stroke-width="0.03" transform="translate(372.00 276.30) scale(1 1.15)">low</text>
<text x="0" y="0" font-size="3.95" text-anchor="start" font-weight="normal" fill="#222" dominant-baseline="central" stroke="#222" stroke-width="0.03" transform="translate(286.70 271.50) scale(1 1.12)">Patients with Stage III~IV</text>
</svg></body></html>
